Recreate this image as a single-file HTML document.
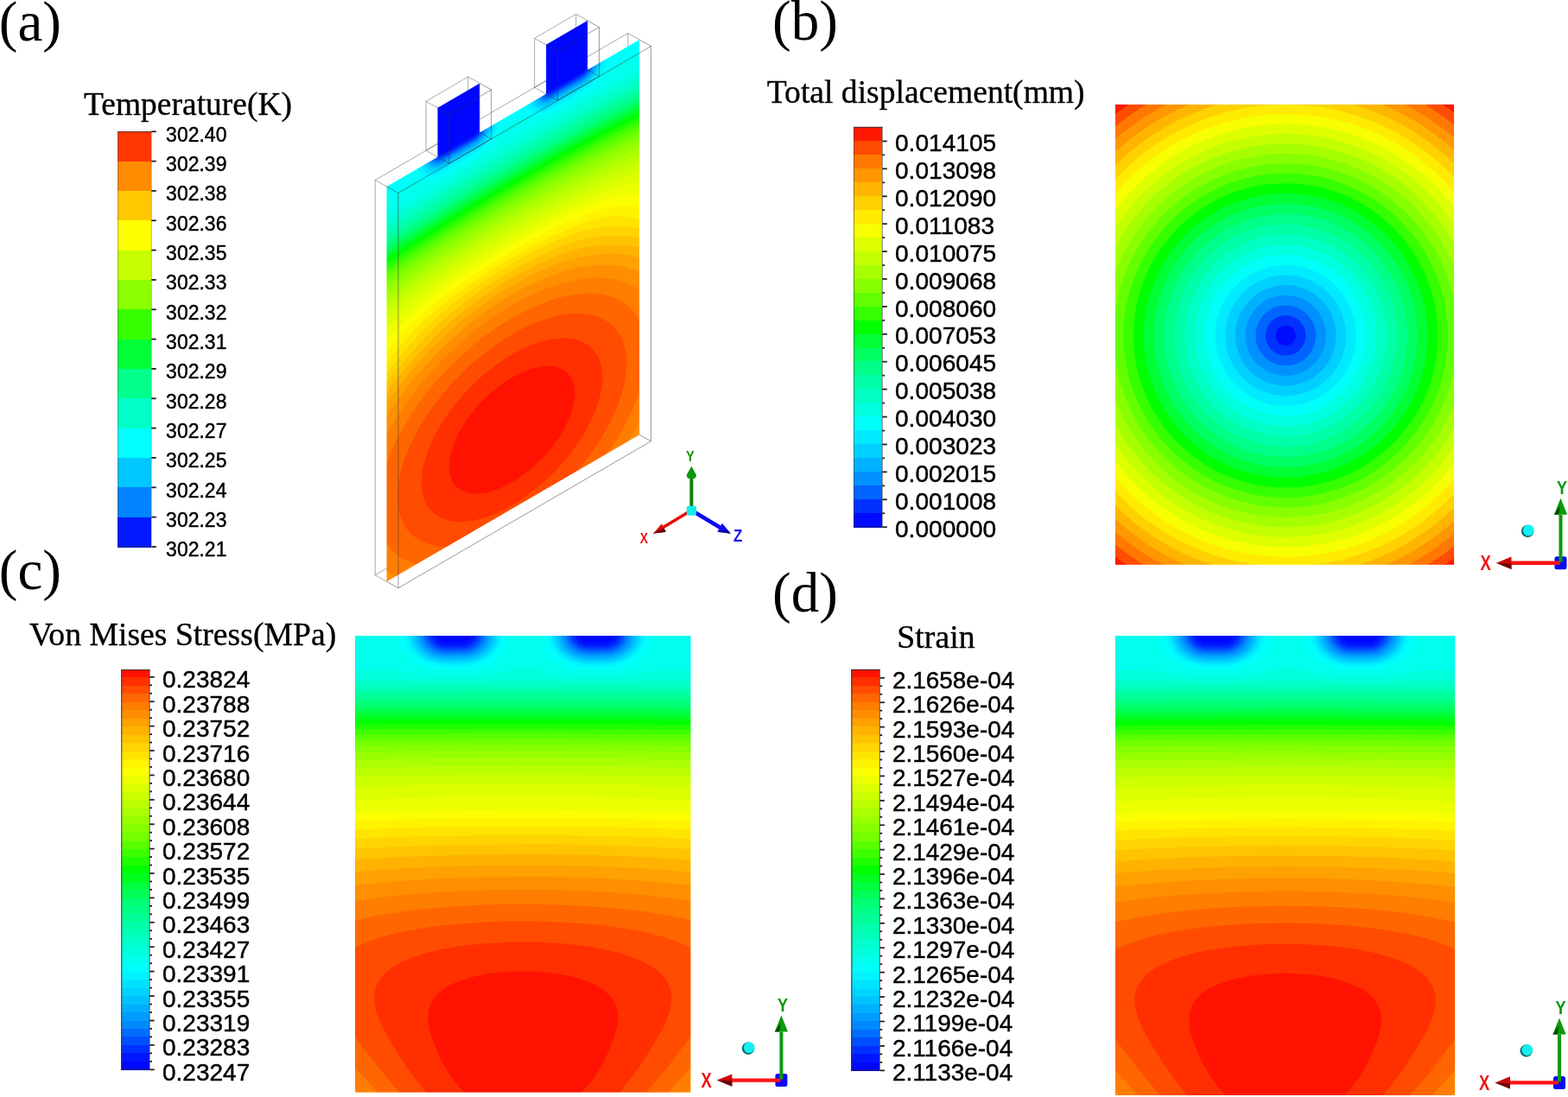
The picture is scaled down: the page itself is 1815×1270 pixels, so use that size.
<!DOCTYPE html>
<html><head><meta charset="utf-8"><title>Figure</title>
<style>html,body{margin:0;padding:0;background:#fff;}svg{display:block}</style></head>
<body>
<svg width="1815" height="1270" viewBox="0 0 1815 1270">
<defs>
<mask id="cb" maskUnits="userSpaceOnUse" x="1280" y="110" width="420" height="560"><rect x="1291.0" y="121.0" width="392.1" height="532.8" fill="#fff"/></mask>
<mask id="cc" maskUnits="userSpaceOnUse" x="-10" y="-10" width="420" height="560"><rect x="0" y="0" width="388.5" height="528.7" fill="#fff"/></mask>
<mask id="cd" maskUnits="userSpaceOnUse" x="-10" y="-10" width="420" height="560"><rect x="0" y="0" width="393.2" height="532" fill="#fff"/></mask>
<mask id="ca" maskUnits="userSpaceOnUse" x="-10" y="-70" width="320" height="540"><path d="M0 0L58.9 0V-57H107.7V0H184.5V-57H232.6V0H292.6V457.3H0Z" fill="#fff"/></mask>
</defs>
<rect width="1815" height="1270" fill="#fff"/>
<text x="-1.20" y="47.40" font-size="65" font-family="Liberation Serif, serif" text-anchor="start" fill="#000" stroke="none">(a)</text>
<text x="894.00" y="45.60" font-size="65" font-family="Liberation Serif, serif" text-anchor="start" fill="#000" stroke="none">(b)</text>
<text x="-1.20" y="681.60" font-size="65" font-family="Liberation Serif, serif" text-anchor="start" fill="#000" stroke="none">(c)</text>
<text x="894.00" y="707.50" font-size="65" font-family="Liberation Serif, serif" text-anchor="start" fill="#000" stroke="none">(d)</text>
<text x="217.50" y="133.00" font-size="37.5" font-family="Liberation Serif, serif" text-anchor="middle" fill="#000"  stroke="#000" stroke-width="0.35">Temperature(K)</text>
<text x="1071.70" y="119.00" font-size="37.6" font-family="Liberation Serif, serif" text-anchor="middle" fill="#000"  stroke="#000" stroke-width="0.35">Total displacement(mm)</text>
<text x="211.60" y="747.00" font-size="37.7" font-family="Liberation Serif, serif" text-anchor="middle" fill="#000"  stroke="#000" stroke-width="0.35">Von Mises Stress(MPa)</text>
<text x="1083.50" y="749.60" font-size="37.8" font-family="Liberation Serif, serif" text-anchor="middle" fill="#000"  stroke="#000" stroke-width="0.35">Strain</text>
<g shape-rendering="crispEdges">
<rect x="136.30" y="152.30" width="39.00" height="34.94" fill="#ff3700"/>
<rect x="136.30" y="186.64" width="39.00" height="34.94" fill="#ff8b00"/>
<rect x="136.30" y="220.97" width="39.00" height="34.94" fill="#ffc800"/>
<rect x="136.30" y="255.31" width="39.00" height="34.94" fill="#ffff00"/>
<rect x="136.30" y="289.64" width="39.00" height="34.94" fill="#c8ff00"/>
<rect x="136.30" y="323.98" width="39.00" height="34.94" fill="#8bff00"/>
<rect x="136.30" y="358.31" width="39.00" height="34.94" fill="#37ff00"/>
<rect x="136.30" y="392.65" width="39.00" height="34.94" fill="#00ff37"/>
<rect x="136.30" y="426.99" width="39.00" height="34.94" fill="#00ff8b"/>
<rect x="136.30" y="461.32" width="39.00" height="34.94" fill="#00ffc8"/>
<rect x="136.30" y="495.66" width="39.00" height="34.94" fill="#00ffff"/>
<rect x="136.30" y="529.99" width="39.00" height="34.94" fill="#00c7ff"/>
<rect x="136.30" y="564.33" width="39.00" height="34.94" fill="#0084ff"/>
<rect x="136.30" y="598.66" width="39.00" height="34.94" fill="#0019ff"/>
</g>
<path d="M136.80 633.00V152.30" fill="none" stroke="#3c3838" stroke-width="1.1" opacity="0.35"/>
<path d="M136.30 152.80H175.80" fill="none" stroke="#3c3030" stroke-width="1.1" opacity="0.8"/>
<path d="M136.30 632.60H175.30" fill="none" stroke="#303018" stroke-width="1" opacity="0.6400000000000001"/>
<path d="M175.30 152.30V633.00" fill="none" stroke="#3c3838" stroke-width="1.1" opacity="0.35"/>
<path d="M175.30 152.30h5.5" stroke="#222" stroke-width="1.8"/>
<text x="192.10" y="163.50" font-size="23" font-family="Liberation Sans, sans-serif" text-anchor="start" fill="#000"  stroke="#000" stroke-width="0.45">302.40</text>
<path d="M175.30 186.64h5.5" stroke="#222" stroke-width="1.8"/>
<text x="192.10" y="197.84" font-size="23" font-family="Liberation Sans, sans-serif" text-anchor="start" fill="#000"  stroke="#000" stroke-width="0.45">302.39</text>
<path d="M175.30 220.97h5.5" stroke="#222" stroke-width="1.8"/>
<text x="192.10" y="232.17" font-size="23" font-family="Liberation Sans, sans-serif" text-anchor="start" fill="#000"  stroke="#000" stroke-width="0.45">302.38</text>
<path d="M175.30 255.31h5.5" stroke="#222" stroke-width="1.8"/>
<text x="192.10" y="266.51" font-size="23" font-family="Liberation Sans, sans-serif" text-anchor="start" fill="#000"  stroke="#000" stroke-width="0.45">302.36</text>
<path d="M175.30 289.64h5.5" stroke="#222" stroke-width="1.8"/>
<text x="192.10" y="300.84" font-size="23" font-family="Liberation Sans, sans-serif" text-anchor="start" fill="#000"  stroke="#000" stroke-width="0.45">302.35</text>
<path d="M175.30 323.98h5.5" stroke="#222" stroke-width="1.8"/>
<text x="192.10" y="335.18" font-size="23" font-family="Liberation Sans, sans-serif" text-anchor="start" fill="#000"  stroke="#000" stroke-width="0.45">302.33</text>
<path d="M175.30 358.31h5.5" stroke="#222" stroke-width="1.8"/>
<text x="192.10" y="369.51" font-size="23" font-family="Liberation Sans, sans-serif" text-anchor="start" fill="#000"  stroke="#000" stroke-width="0.45">302.32</text>
<path d="M175.30 392.65h5.5" stroke="#222" stroke-width="1.8"/>
<text x="192.10" y="403.85" font-size="23" font-family="Liberation Sans, sans-serif" text-anchor="start" fill="#000"  stroke="#000" stroke-width="0.45">302.31</text>
<path d="M175.30 426.99h5.5" stroke="#222" stroke-width="1.8"/>
<text x="192.10" y="438.19" font-size="23" font-family="Liberation Sans, sans-serif" text-anchor="start" fill="#000"  stroke="#000" stroke-width="0.45">302.29</text>
<path d="M175.30 461.32h5.5" stroke="#222" stroke-width="1.8"/>
<text x="192.10" y="472.52" font-size="23" font-family="Liberation Sans, sans-serif" text-anchor="start" fill="#000"  stroke="#000" stroke-width="0.45">302.28</text>
<path d="M175.30 495.66h5.5" stroke="#222" stroke-width="1.8"/>
<text x="192.10" y="506.86" font-size="23" font-family="Liberation Sans, sans-serif" text-anchor="start" fill="#000"  stroke="#000" stroke-width="0.45">302.27</text>
<path d="M175.30 529.99h5.5" stroke="#222" stroke-width="1.8"/>
<text x="192.10" y="541.19" font-size="23" font-family="Liberation Sans, sans-serif" text-anchor="start" fill="#000"  stroke="#000" stroke-width="0.45">302.25</text>
<path d="M175.30 564.33h5.5" stroke="#222" stroke-width="1.8"/>
<text x="192.10" y="575.53" font-size="23" font-family="Liberation Sans, sans-serif" text-anchor="start" fill="#000"  stroke="#000" stroke-width="0.45">302.24</text>
<path d="M175.30 598.66h5.5" stroke="#222" stroke-width="1.8"/>
<text x="192.10" y="609.86" font-size="23" font-family="Liberation Sans, sans-serif" text-anchor="start" fill="#000"  stroke="#000" stroke-width="0.45">302.23</text>
<path d="M175.30 633.00h5.5" stroke="#222" stroke-width="1.8"/>
<text x="192.10" y="644.20" font-size="23" font-family="Liberation Sans, sans-serif" text-anchor="start" fill="#000"  stroke="#000" stroke-width="0.45">302.21</text>
<g shape-rendering="crispEdges">
<rect x="988.00" y="146.90" width="33.30" height="16.58" fill="#ff1900"/>
<rect x="988.00" y="162.88" width="33.30" height="16.58" fill="#ff4c00"/>
<rect x="988.00" y="178.85" width="33.30" height="16.58" fill="#ff7900"/>
<rect x="988.00" y="194.83" width="33.30" height="16.58" fill="#ff9700"/>
<rect x="988.00" y="210.80" width="33.30" height="16.58" fill="#ffb500"/>
<rect x="988.00" y="226.78" width="33.30" height="16.58" fill="#ffd100"/>
<rect x="988.00" y="242.76" width="33.30" height="16.58" fill="#ffeb00"/>
<rect x="988.00" y="258.73" width="33.30" height="16.58" fill="#f8ff00"/>
<rect x="988.00" y="274.71" width="33.30" height="16.58" fill="#deff00"/>
<rect x="988.00" y="290.68" width="33.30" height="16.58" fill="#c3ff00"/>
<rect x="988.00" y="306.66" width="33.30" height="16.58" fill="#a6ff00"/>
<rect x="988.00" y="322.63" width="33.30" height="16.58" fill="#88ff00"/>
<rect x="988.00" y="338.61" width="33.30" height="16.58" fill="#63ff00"/>
<rect x="988.00" y="354.59" width="33.30" height="16.58" fill="#35ff00"/>
<rect x="988.00" y="370.56" width="33.30" height="16.58" fill="#00ff00"/>
<rect x="988.00" y="386.54" width="33.30" height="16.58" fill="#00ff35"/>
<rect x="988.00" y="402.51" width="33.30" height="16.58" fill="#00ff63"/>
<rect x="988.00" y="418.49" width="33.30" height="16.58" fill="#00ff88"/>
<rect x="988.00" y="434.47" width="33.30" height="16.58" fill="#00ffa6"/>
<rect x="988.00" y="450.44" width="33.30" height="16.58" fill="#00ffc3"/>
<rect x="988.00" y="466.42" width="33.30" height="16.58" fill="#00ffde"/>
<rect x="988.00" y="482.39" width="33.30" height="16.58" fill="#00fff8"/>
<rect x="988.00" y="498.37" width="33.30" height="16.58" fill="#00ebff"/>
<rect x="988.00" y="514.34" width="33.30" height="16.58" fill="#00d0ff"/>
<rect x="988.00" y="530.32" width="33.30" height="16.58" fill="#00b1ff"/>
<rect x="988.00" y="546.30" width="33.30" height="16.58" fill="#0091ff"/>
<rect x="988.00" y="562.27" width="33.30" height="16.58" fill="#0065ff"/>
<rect x="988.00" y="578.25" width="33.30" height="16.58" fill="#0031ff"/>
<rect x="988.00" y="594.22" width="33.30" height="16.58" fill="#000cff"/>
</g>
<path d="M988.50 610.20V146.90" fill="none" stroke="#3c3838" stroke-width="1.1" opacity="0.5"/>
<path d="M988.00 147.40H1021.80" fill="none" stroke="#3c3030" stroke-width="1.1" opacity="0.8"/>
<path d="M988.00 609.80H1021.30" fill="none" stroke="#303018" stroke-width="1" opacity="0.6400000000000001"/>
<path d="M1021.30 146.90V610.20" fill="none" stroke="#3c3838" stroke-width="1.1" opacity="0.6"/>
<path d="M1021.30 163.46h5.5" stroke="#222" stroke-width="1.8"/>
<path d="M1021.30 179.41h2.8" stroke="#222" stroke-width="1.8"/>
<text x="1036.00" y="175.06" font-size="28.1" font-family="Liberation Sans, sans-serif" text-anchor="start" fill="#000"  stroke="#000" stroke-width="0.45">0.014105</text>
<path d="M1021.30 195.37h5.5" stroke="#222" stroke-width="1.8"/>
<path d="M1021.30 211.32h2.8" stroke="#222" stroke-width="1.8"/>
<text x="1036.00" y="206.97" font-size="28.1" font-family="Liberation Sans, sans-serif" text-anchor="start" fill="#000"  stroke="#000" stroke-width="0.45">0.013098</text>
<path d="M1021.30 227.28h5.5" stroke="#222" stroke-width="1.8"/>
<path d="M1021.30 243.23h2.8" stroke="#222" stroke-width="1.8"/>
<text x="1036.00" y="238.88" font-size="28.1" font-family="Liberation Sans, sans-serif" text-anchor="start" fill="#000"  stroke="#000" stroke-width="0.45">0.012090</text>
<path d="M1021.30 259.19h5.5" stroke="#222" stroke-width="1.8"/>
<path d="M1021.30 275.14h2.8" stroke="#222" stroke-width="1.8"/>
<text x="1036.00" y="270.79" font-size="28.1" font-family="Liberation Sans, sans-serif" text-anchor="start" fill="#000"  stroke="#000" stroke-width="0.45">0.011083</text>
<path d="M1021.30 291.10h5.5" stroke="#222" stroke-width="1.8"/>
<path d="M1021.30 307.05h2.8" stroke="#222" stroke-width="1.8"/>
<text x="1036.00" y="302.70" font-size="28.1" font-family="Liberation Sans, sans-serif" text-anchor="start" fill="#000"  stroke="#000" stroke-width="0.45">0.010075</text>
<path d="M1021.30 323.01h5.5" stroke="#222" stroke-width="1.8"/>
<path d="M1021.30 338.96h2.8" stroke="#222" stroke-width="1.8"/>
<text x="1036.00" y="334.61" font-size="28.1" font-family="Liberation Sans, sans-serif" text-anchor="start" fill="#000"  stroke="#000" stroke-width="0.45">0.009068</text>
<path d="M1021.30 354.92h5.5" stroke="#222" stroke-width="1.8"/>
<path d="M1021.30 370.87h2.8" stroke="#222" stroke-width="1.8"/>
<text x="1036.00" y="366.52" font-size="28.1" font-family="Liberation Sans, sans-serif" text-anchor="start" fill="#000"  stroke="#000" stroke-width="0.45">0.008060</text>
<path d="M1021.30 386.83h5.5" stroke="#222" stroke-width="1.8"/>
<path d="M1021.30 402.78h2.8" stroke="#222" stroke-width="1.8"/>
<text x="1036.00" y="398.43" font-size="28.1" font-family="Liberation Sans, sans-serif" text-anchor="start" fill="#000"  stroke="#000" stroke-width="0.45">0.007053</text>
<path d="M1021.30 418.74h5.5" stroke="#222" stroke-width="1.8"/>
<path d="M1021.30 434.69h2.8" stroke="#222" stroke-width="1.8"/>
<text x="1036.00" y="430.34" font-size="28.1" font-family="Liberation Sans, sans-serif" text-anchor="start" fill="#000"  stroke="#000" stroke-width="0.45">0.006045</text>
<path d="M1021.30 450.65h5.5" stroke="#222" stroke-width="1.8"/>
<path d="M1021.30 466.60h2.8" stroke="#222" stroke-width="1.8"/>
<text x="1036.00" y="462.25" font-size="28.1" font-family="Liberation Sans, sans-serif" text-anchor="start" fill="#000"  stroke="#000" stroke-width="0.45">0.005038</text>
<path d="M1021.30 482.56h5.5" stroke="#222" stroke-width="1.8"/>
<path d="M1021.30 498.51h2.8" stroke="#222" stroke-width="1.8"/>
<text x="1036.00" y="494.16" font-size="28.1" font-family="Liberation Sans, sans-serif" text-anchor="start" fill="#000"  stroke="#000" stroke-width="0.45">0.004030</text>
<path d="M1021.30 514.47h5.5" stroke="#222" stroke-width="1.8"/>
<path d="M1021.30 530.42h2.8" stroke="#222" stroke-width="1.8"/>
<text x="1036.00" y="526.07" font-size="28.1" font-family="Liberation Sans, sans-serif" text-anchor="start" fill="#000"  stroke="#000" stroke-width="0.45">0.003023</text>
<path d="M1021.30 546.38h5.5" stroke="#222" stroke-width="1.8"/>
<path d="M1021.30 562.33h2.8" stroke="#222" stroke-width="1.8"/>
<text x="1036.00" y="557.98" font-size="28.1" font-family="Liberation Sans, sans-serif" text-anchor="start" fill="#000"  stroke="#000" stroke-width="0.45">0.002015</text>
<path d="M1021.30 578.29h5.5" stroke="#222" stroke-width="1.8"/>
<path d="M1021.30 594.24h2.8" stroke="#222" stroke-width="1.8"/>
<text x="1036.00" y="589.89" font-size="28.1" font-family="Liberation Sans, sans-serif" text-anchor="start" fill="#000"  stroke="#000" stroke-width="0.45">0.001008</text>
<path d="M1021.30 610.20h5.5" stroke="#222" stroke-width="1.8"/>
<text x="1036.00" y="621.80" font-size="28.1" font-family="Liberation Sans, sans-serif" text-anchor="start" fill="#000"  stroke="#000" stroke-width="0.45">0.000000</text>
<g shape-rendering="crispEdges">
<rect x="140.30" y="775.00" width="32.90" height="10.06" fill="#ff1300"/>
<rect x="140.30" y="784.46" width="32.90" height="10.06" fill="#ff2f00"/>
<rect x="140.30" y="793.91" width="32.90" height="10.06" fill="#ff4c00"/>
<rect x="140.30" y="803.37" width="32.90" height="10.06" fill="#ff6600"/>
<rect x="140.30" y="812.82" width="32.90" height="10.06" fill="#ff7e00"/>
<rect x="140.30" y="822.28" width="32.90" height="10.06" fill="#ff8f00"/>
<rect x="140.30" y="831.73" width="32.90" height="10.06" fill="#ffa100"/>
<rect x="140.30" y="841.19" width="32.90" height="10.06" fill="#ffb300"/>
<rect x="140.30" y="850.64" width="32.90" height="10.06" fill="#ffc400"/>
<rect x="140.30" y="860.10" width="32.90" height="10.06" fill="#ffd400"/>
<rect x="140.30" y="869.55" width="32.90" height="10.06" fill="#ffe400"/>
<rect x="140.30" y="879.01" width="32.90" height="10.06" fill="#fff300"/>
<rect x="140.30" y="888.46" width="32.90" height="10.06" fill="#fbff00"/>
<rect x="140.30" y="897.92" width="32.90" height="10.06" fill="#ecff00"/>
<rect x="140.30" y="907.37" width="32.90" height="10.06" fill="#dcff00"/>
<rect x="140.30" y="916.83" width="32.90" height="10.06" fill="#ccff00"/>
<rect x="140.30" y="926.28" width="32.90" height="10.06" fill="#bbff00"/>
<rect x="140.30" y="935.74" width="32.90" height="10.06" fill="#aaff00"/>
<rect x="140.30" y="945.19" width="32.90" height="10.06" fill="#98ff00"/>
<rect x="140.30" y="954.65" width="32.90" height="10.06" fill="#86ff00"/>
<rect x="140.30" y="964.10" width="32.90" height="10.06" fill="#73ff00"/>
<rect x="140.30" y="973.56" width="32.90" height="10.06" fill="#59ff00"/>
<rect x="140.30" y="983.01" width="32.90" height="10.06" fill="#3eff00"/>
<rect x="140.30" y="992.47" width="32.90" height="10.06" fill="#1fff00"/>
<rect x="140.30" y="1001.92" width="32.90" height="10.06" fill="#00ff00"/>
<rect x="140.30" y="1011.38" width="32.90" height="10.06" fill="#00ff1f"/>
<rect x="140.30" y="1020.83" width="32.90" height="10.06" fill="#00ff3e"/>
<rect x="140.30" y="1030.29" width="32.90" height="10.06" fill="#00ff59"/>
<rect x="140.30" y="1039.74" width="32.90" height="10.06" fill="#00ff73"/>
<rect x="140.30" y="1049.20" width="32.90" height="10.06" fill="#00ff86"/>
<rect x="140.30" y="1058.65" width="32.90" height="10.06" fill="#00ff98"/>
<rect x="140.30" y="1068.11" width="32.90" height="10.06" fill="#00ffaa"/>
<rect x="140.30" y="1077.56" width="32.90" height="10.06" fill="#00ffbb"/>
<rect x="140.30" y="1087.02" width="32.90" height="10.06" fill="#00ffcc"/>
<rect x="140.30" y="1096.47" width="32.90" height="10.06" fill="#00ffdc"/>
<rect x="140.30" y="1105.93" width="32.90" height="10.06" fill="#00ffec"/>
<rect x="140.30" y="1115.38" width="32.90" height="10.06" fill="#00fffb"/>
<rect x="140.30" y="1124.84" width="32.90" height="10.06" fill="#00f3ff"/>
<rect x="140.30" y="1134.29" width="32.90" height="10.06" fill="#00e3ff"/>
<rect x="140.30" y="1143.75" width="32.90" height="10.06" fill="#00d3ff"/>
<rect x="140.30" y="1153.20" width="32.90" height="10.06" fill="#00c2ff"/>
<rect x="140.30" y="1162.66" width="32.90" height="10.06" fill="#00afff"/>
<rect x="140.30" y="1172.11" width="32.90" height="10.06" fill="#009cff"/>
<rect x="140.30" y="1181.57" width="32.90" height="10.06" fill="#0089ff"/>
<rect x="140.30" y="1191.02" width="32.90" height="10.06" fill="#006dff"/>
<rect x="140.30" y="1200.48" width="32.90" height="10.06" fill="#004fff"/>
<rect x="140.30" y="1209.93" width="32.90" height="10.06" fill="#0030ff"/>
<rect x="140.30" y="1219.39" width="32.90" height="10.06" fill="#0016ff"/>
<rect x="140.30" y="1228.84" width="32.90" height="10.06" fill="#0007ff"/>
</g>
<path d="M140.80 1238.30V775.00" fill="none" stroke="#3c3838" stroke-width="1.1" opacity="0.85"/>
<path d="M140.30 775.50H173.70" fill="none" stroke="#3c3030" stroke-width="1.1" opacity="0.85"/>
<path d="M140.30 1237.90H173.20" fill="none" stroke="#303018" stroke-width="1" opacity="0.68"/>
<path d="M173.20 775.00V1238.30" fill="none" stroke="#3c3838" stroke-width="1.1" opacity="0.7"/>
<path d="M173.20 783.80h5.5" stroke="#222" stroke-width="1.8"/>
<path d="M173.20 793.27h2.8" stroke="#222" stroke-width="1.8"/>
<path d="M173.20 802.74h2.8" stroke="#222" stroke-width="1.8"/>
<text x="188.00" y="796.40" font-size="28.0" font-family="Liberation Sans, sans-serif" text-anchor="start" fill="#000"  stroke="#000" stroke-width="0.45">0.23824</text>
<path d="M173.20 812.21h5.5" stroke="#222" stroke-width="1.8"/>
<path d="M173.20 821.67h2.8" stroke="#222" stroke-width="1.8"/>
<path d="M173.20 831.14h2.8" stroke="#222" stroke-width="1.8"/>
<text x="188.00" y="824.81" font-size="28.0" font-family="Liberation Sans, sans-serif" text-anchor="start" fill="#000"  stroke="#000" stroke-width="0.45">0.23788</text>
<path d="M173.20 840.61h5.5" stroke="#222" stroke-width="1.8"/>
<path d="M173.20 850.08h2.8" stroke="#222" stroke-width="1.8"/>
<path d="M173.20 859.55h2.8" stroke="#222" stroke-width="1.8"/>
<text x="188.00" y="853.21" font-size="28.0" font-family="Liberation Sans, sans-serif" text-anchor="start" fill="#000"  stroke="#000" stroke-width="0.45">0.23752</text>
<path d="M173.20 869.02h5.5" stroke="#222" stroke-width="1.8"/>
<path d="M173.20 878.49h2.8" stroke="#222" stroke-width="1.8"/>
<path d="M173.20 887.96h2.8" stroke="#222" stroke-width="1.8"/>
<text x="188.00" y="881.62" font-size="28.0" font-family="Liberation Sans, sans-serif" text-anchor="start" fill="#000"  stroke="#000" stroke-width="0.45">0.23716</text>
<path d="M173.20 897.42h5.5" stroke="#222" stroke-width="1.8"/>
<path d="M173.20 906.89h2.8" stroke="#222" stroke-width="1.8"/>
<path d="M173.20 916.36h2.8" stroke="#222" stroke-width="1.8"/>
<text x="188.00" y="910.02" font-size="28.0" font-family="Liberation Sans, sans-serif" text-anchor="start" fill="#000"  stroke="#000" stroke-width="0.45">0.23680</text>
<path d="M173.20 925.83h5.5" stroke="#222" stroke-width="1.8"/>
<path d="M173.20 935.30h2.8" stroke="#222" stroke-width="1.8"/>
<path d="M173.20 944.77h2.8" stroke="#222" stroke-width="1.8"/>
<text x="188.00" y="938.43" font-size="28.0" font-family="Liberation Sans, sans-serif" text-anchor="start" fill="#000"  stroke="#000" stroke-width="0.45">0.23644</text>
<path d="M173.20 954.24h5.5" stroke="#222" stroke-width="1.8"/>
<path d="M173.20 963.71h2.8" stroke="#222" stroke-width="1.8"/>
<path d="M173.20 973.17h2.8" stroke="#222" stroke-width="1.8"/>
<text x="188.00" y="966.84" font-size="28.0" font-family="Liberation Sans, sans-serif" text-anchor="start" fill="#000"  stroke="#000" stroke-width="0.45">0.23608</text>
<path d="M173.20 982.64h5.5" stroke="#222" stroke-width="1.8"/>
<path d="M173.20 992.11h2.8" stroke="#222" stroke-width="1.8"/>
<path d="M173.20 1001.58h2.8" stroke="#222" stroke-width="1.8"/>
<text x="188.00" y="995.24" font-size="28.0" font-family="Liberation Sans, sans-serif" text-anchor="start" fill="#000"  stroke="#000" stroke-width="0.45">0.23572</text>
<path d="M173.20 1011.05h5.5" stroke="#222" stroke-width="1.8"/>
<path d="M173.20 1020.52h2.8" stroke="#222" stroke-width="1.8"/>
<path d="M173.20 1029.99h2.8" stroke="#222" stroke-width="1.8"/>
<text x="188.00" y="1023.65" font-size="28.0" font-family="Liberation Sans, sans-serif" text-anchor="start" fill="#000"  stroke="#000" stroke-width="0.45">0.23535</text>
<path d="M173.20 1039.46h5.5" stroke="#222" stroke-width="1.8"/>
<path d="M173.20 1048.92h2.8" stroke="#222" stroke-width="1.8"/>
<path d="M173.20 1058.39h2.8" stroke="#222" stroke-width="1.8"/>
<text x="188.00" y="1052.06" font-size="28.0" font-family="Liberation Sans, sans-serif" text-anchor="start" fill="#000"  stroke="#000" stroke-width="0.45">0.23499</text>
<path d="M173.20 1067.86h5.5" stroke="#222" stroke-width="1.8"/>
<path d="M173.20 1077.33h2.8" stroke="#222" stroke-width="1.8"/>
<path d="M173.20 1086.80h2.8" stroke="#222" stroke-width="1.8"/>
<text x="188.00" y="1080.46" font-size="28.0" font-family="Liberation Sans, sans-serif" text-anchor="start" fill="#000"  stroke="#000" stroke-width="0.45">0.23463</text>
<path d="M173.20 1096.27h5.5" stroke="#222" stroke-width="1.8"/>
<path d="M173.20 1105.74h2.8" stroke="#222" stroke-width="1.8"/>
<path d="M173.20 1115.21h2.8" stroke="#222" stroke-width="1.8"/>
<text x="188.00" y="1108.87" font-size="28.0" font-family="Liberation Sans, sans-serif" text-anchor="start" fill="#000"  stroke="#000" stroke-width="0.45">0.23427</text>
<path d="M173.20 1124.67h5.5" stroke="#222" stroke-width="1.8"/>
<path d="M173.20 1134.14h2.8" stroke="#222" stroke-width="1.8"/>
<path d="M173.20 1143.61h2.8" stroke="#222" stroke-width="1.8"/>
<text x="188.00" y="1137.27" font-size="28.0" font-family="Liberation Sans, sans-serif" text-anchor="start" fill="#000"  stroke="#000" stroke-width="0.45">0.23391</text>
<path d="M173.20 1153.08h5.5" stroke="#222" stroke-width="1.8"/>
<path d="M173.20 1162.55h2.8" stroke="#222" stroke-width="1.8"/>
<path d="M173.20 1172.02h2.8" stroke="#222" stroke-width="1.8"/>
<text x="188.00" y="1165.68" font-size="28.0" font-family="Liberation Sans, sans-serif" text-anchor="start" fill="#000"  stroke="#000" stroke-width="0.45">0.23355</text>
<path d="M173.20 1181.49h5.5" stroke="#222" stroke-width="1.8"/>
<path d="M173.20 1190.96h2.8" stroke="#222" stroke-width="1.8"/>
<path d="M173.20 1200.42h2.8" stroke="#222" stroke-width="1.8"/>
<text x="188.00" y="1194.09" font-size="28.0" font-family="Liberation Sans, sans-serif" text-anchor="start" fill="#000"  stroke="#000" stroke-width="0.45">0.23319</text>
<path d="M173.20 1209.89h5.5" stroke="#222" stroke-width="1.8"/>
<path d="M173.20 1219.36h2.8" stroke="#222" stroke-width="1.8"/>
<path d="M173.20 1228.83h2.8" stroke="#222" stroke-width="1.8"/>
<text x="188.00" y="1222.49" font-size="28.0" font-family="Liberation Sans, sans-serif" text-anchor="start" fill="#000"  stroke="#000" stroke-width="0.45">0.23283</text>
<path d="M173.20 1238.30h5.5" stroke="#222" stroke-width="1.8"/>
<text x="188.00" y="1250.90" font-size="28.0" font-family="Liberation Sans, sans-serif" text-anchor="start" fill="#000"  stroke="#000" stroke-width="0.45">0.23247</text>
<g shape-rendering="crispEdges">
<rect x="985.40" y="774.90" width="33.00" height="10.08" fill="#ff1300"/>
<rect x="985.40" y="784.38" width="33.00" height="10.08" fill="#ff2f00"/>
<rect x="985.40" y="793.86" width="33.00" height="10.08" fill="#ff4c00"/>
<rect x="985.40" y="803.33" width="33.00" height="10.08" fill="#ff6600"/>
<rect x="985.40" y="812.81" width="33.00" height="10.08" fill="#ff7e00"/>
<rect x="985.40" y="822.29" width="33.00" height="10.08" fill="#ff8f00"/>
<rect x="985.40" y="831.77" width="33.00" height="10.08" fill="#ffa100"/>
<rect x="985.40" y="841.24" width="33.00" height="10.08" fill="#ffb300"/>
<rect x="985.40" y="850.72" width="33.00" height="10.08" fill="#ffc400"/>
<rect x="985.40" y="860.20" width="33.00" height="10.08" fill="#ffd400"/>
<rect x="985.40" y="869.68" width="33.00" height="10.08" fill="#ffe400"/>
<rect x="985.40" y="879.15" width="33.00" height="10.08" fill="#fff300"/>
<rect x="985.40" y="888.63" width="33.00" height="10.08" fill="#fbff00"/>
<rect x="985.40" y="898.11" width="33.00" height="10.08" fill="#ecff00"/>
<rect x="985.40" y="907.59" width="33.00" height="10.08" fill="#dcff00"/>
<rect x="985.40" y="917.06" width="33.00" height="10.08" fill="#ccff00"/>
<rect x="985.40" y="926.54" width="33.00" height="10.08" fill="#bbff00"/>
<rect x="985.40" y="936.02" width="33.00" height="10.08" fill="#aaff00"/>
<rect x="985.40" y="945.50" width="33.00" height="10.08" fill="#98ff00"/>
<rect x="985.40" y="954.97" width="33.00" height="10.08" fill="#86ff00"/>
<rect x="985.40" y="964.45" width="33.00" height="10.08" fill="#73ff00"/>
<rect x="985.40" y="973.93" width="33.00" height="10.08" fill="#59ff00"/>
<rect x="985.40" y="983.41" width="33.00" height="10.08" fill="#3eff00"/>
<rect x="985.40" y="992.88" width="33.00" height="10.08" fill="#1fff00"/>
<rect x="985.40" y="1002.36" width="33.00" height="10.08" fill="#00ff00"/>
<rect x="985.40" y="1011.84" width="33.00" height="10.08" fill="#00ff1f"/>
<rect x="985.40" y="1021.32" width="33.00" height="10.08" fill="#00ff3e"/>
<rect x="985.40" y="1030.79" width="33.00" height="10.08" fill="#00ff59"/>
<rect x="985.40" y="1040.27" width="33.00" height="10.08" fill="#00ff73"/>
<rect x="985.40" y="1049.75" width="33.00" height="10.08" fill="#00ff86"/>
<rect x="985.40" y="1059.23" width="33.00" height="10.08" fill="#00ff98"/>
<rect x="985.40" y="1068.70" width="33.00" height="10.08" fill="#00ffaa"/>
<rect x="985.40" y="1078.18" width="33.00" height="10.08" fill="#00ffbb"/>
<rect x="985.40" y="1087.66" width="33.00" height="10.08" fill="#00ffcc"/>
<rect x="985.40" y="1097.14" width="33.00" height="10.08" fill="#00ffdc"/>
<rect x="985.40" y="1106.61" width="33.00" height="10.08" fill="#00ffec"/>
<rect x="985.40" y="1116.09" width="33.00" height="10.08" fill="#00fffb"/>
<rect x="985.40" y="1125.57" width="33.00" height="10.08" fill="#00f3ff"/>
<rect x="985.40" y="1135.05" width="33.00" height="10.08" fill="#00e3ff"/>
<rect x="985.40" y="1144.52" width="33.00" height="10.08" fill="#00d3ff"/>
<rect x="985.40" y="1154.00" width="33.00" height="10.08" fill="#00c2ff"/>
<rect x="985.40" y="1163.48" width="33.00" height="10.08" fill="#00afff"/>
<rect x="985.40" y="1172.96" width="33.00" height="10.08" fill="#009cff"/>
<rect x="985.40" y="1182.43" width="33.00" height="10.08" fill="#0089ff"/>
<rect x="985.40" y="1191.91" width="33.00" height="10.08" fill="#006dff"/>
<rect x="985.40" y="1201.39" width="33.00" height="10.08" fill="#004fff"/>
<rect x="985.40" y="1210.87" width="33.00" height="10.08" fill="#0030ff"/>
<rect x="985.40" y="1220.34" width="33.00" height="10.08" fill="#0016ff"/>
<rect x="985.40" y="1229.82" width="33.00" height="10.08" fill="#0007ff"/>
</g>
<path d="M985.90 1239.30V774.90" fill="none" stroke="#3c3838" stroke-width="1.1" opacity="0.85"/>
<path d="M985.40 775.40H1018.90" fill="none" stroke="#3c3030" stroke-width="1.1" opacity="0.85"/>
<path d="M985.40 1238.90H1018.40" fill="none" stroke="#303018" stroke-width="1" opacity="0.68"/>
<path d="M1018.40 774.90V1239.30" fill="none" stroke="#3c3838" stroke-width="1.1" opacity="0.7"/>
<path d="M1018.40 784.80h5.5" stroke="#222" stroke-width="1.8"/>
<path d="M1018.40 794.27h2.8" stroke="#222" stroke-width="1.8"/>
<path d="M1018.40 803.74h2.8" stroke="#222" stroke-width="1.8"/>
<text x="1032.90" y="796.70" font-size="27.95" font-family="Liberation Sans, sans-serif" text-anchor="start" fill="#000"  stroke="#000" stroke-width="0.45">2.1658e-04</text>
<path d="M1018.40 813.21h5.5" stroke="#222" stroke-width="1.8"/>
<path d="M1018.40 822.67h2.8" stroke="#222" stroke-width="1.8"/>
<path d="M1018.40 832.14h2.8" stroke="#222" stroke-width="1.8"/>
<text x="1032.90" y="825.11" font-size="27.95" font-family="Liberation Sans, sans-serif" text-anchor="start" fill="#000"  stroke="#000" stroke-width="0.45">2.1626e-04</text>
<path d="M1018.40 841.61h5.5" stroke="#222" stroke-width="1.8"/>
<path d="M1018.40 851.08h2.8" stroke="#222" stroke-width="1.8"/>
<path d="M1018.40 860.55h2.8" stroke="#222" stroke-width="1.8"/>
<text x="1032.90" y="853.51" font-size="27.95" font-family="Liberation Sans, sans-serif" text-anchor="start" fill="#000"  stroke="#000" stroke-width="0.45">2.1593e-04</text>
<path d="M1018.40 870.02h5.5" stroke="#222" stroke-width="1.8"/>
<path d="M1018.40 879.49h2.8" stroke="#222" stroke-width="1.8"/>
<path d="M1018.40 888.96h2.8" stroke="#222" stroke-width="1.8"/>
<text x="1032.90" y="881.92" font-size="27.95" font-family="Liberation Sans, sans-serif" text-anchor="start" fill="#000"  stroke="#000" stroke-width="0.45">2.1560e-04</text>
<path d="M1018.40 898.42h5.5" stroke="#222" stroke-width="1.8"/>
<path d="M1018.40 907.89h2.8" stroke="#222" stroke-width="1.8"/>
<path d="M1018.40 917.36h2.8" stroke="#222" stroke-width="1.8"/>
<text x="1032.90" y="910.32" font-size="27.95" font-family="Liberation Sans, sans-serif" text-anchor="start" fill="#000"  stroke="#000" stroke-width="0.45">2.1527e-04</text>
<path d="M1018.40 926.83h5.5" stroke="#222" stroke-width="1.8"/>
<path d="M1018.40 936.30h2.8" stroke="#222" stroke-width="1.8"/>
<path d="M1018.40 945.77h2.8" stroke="#222" stroke-width="1.8"/>
<text x="1032.90" y="938.73" font-size="27.95" font-family="Liberation Sans, sans-serif" text-anchor="start" fill="#000"  stroke="#000" stroke-width="0.45">2.1494e-04</text>
<path d="M1018.40 955.24h5.5" stroke="#222" stroke-width="1.8"/>
<path d="M1018.40 964.71h2.8" stroke="#222" stroke-width="1.8"/>
<path d="M1018.40 974.17h2.8" stroke="#222" stroke-width="1.8"/>
<text x="1032.90" y="967.14" font-size="27.95" font-family="Liberation Sans, sans-serif" text-anchor="start" fill="#000"  stroke="#000" stroke-width="0.45">2.1461e-04</text>
<path d="M1018.40 983.64h5.5" stroke="#222" stroke-width="1.8"/>
<path d="M1018.40 993.11h2.8" stroke="#222" stroke-width="1.8"/>
<path d="M1018.40 1002.58h2.8" stroke="#222" stroke-width="1.8"/>
<text x="1032.90" y="995.54" font-size="27.95" font-family="Liberation Sans, sans-serif" text-anchor="start" fill="#000"  stroke="#000" stroke-width="0.45">2.1429e-04</text>
<path d="M1018.40 1012.05h5.5" stroke="#222" stroke-width="1.8"/>
<path d="M1018.40 1021.52h2.8" stroke="#222" stroke-width="1.8"/>
<path d="M1018.40 1030.99h2.8" stroke="#222" stroke-width="1.8"/>
<text x="1032.90" y="1023.95" font-size="27.95" font-family="Liberation Sans, sans-serif" text-anchor="start" fill="#000"  stroke="#000" stroke-width="0.45">2.1396e-04</text>
<path d="M1018.40 1040.46h5.5" stroke="#222" stroke-width="1.8"/>
<path d="M1018.40 1049.92h2.8" stroke="#222" stroke-width="1.8"/>
<path d="M1018.40 1059.39h2.8" stroke="#222" stroke-width="1.8"/>
<text x="1032.90" y="1052.36" font-size="27.95" font-family="Liberation Sans, sans-serif" text-anchor="start" fill="#000"  stroke="#000" stroke-width="0.45">2.1363e-04</text>
<path d="M1018.40 1068.86h5.5" stroke="#222" stroke-width="1.8"/>
<path d="M1018.40 1078.33h2.8" stroke="#222" stroke-width="1.8"/>
<path d="M1018.40 1087.80h2.8" stroke="#222" stroke-width="1.8"/>
<text x="1032.90" y="1080.76" font-size="27.95" font-family="Liberation Sans, sans-serif" text-anchor="start" fill="#000"  stroke="#000" stroke-width="0.45">2.1330e-04</text>
<path d="M1018.40 1097.27h5.5" stroke="#222" stroke-width="1.8"/>
<path d="M1018.40 1106.74h2.8" stroke="#222" stroke-width="1.8"/>
<path d="M1018.40 1116.21h2.8" stroke="#222" stroke-width="1.8"/>
<text x="1032.90" y="1109.17" font-size="27.95" font-family="Liberation Sans, sans-serif" text-anchor="start" fill="#000"  stroke="#000" stroke-width="0.45">2.1297e-04</text>
<path d="M1018.40 1125.67h5.5" stroke="#222" stroke-width="1.8"/>
<path d="M1018.40 1135.14h2.8" stroke="#222" stroke-width="1.8"/>
<path d="M1018.40 1144.61h2.8" stroke="#222" stroke-width="1.8"/>
<text x="1032.90" y="1137.58" font-size="27.95" font-family="Liberation Sans, sans-serif" text-anchor="start" fill="#000"  stroke="#000" stroke-width="0.45">2.1265e-04</text>
<path d="M1018.40 1154.08h5.5" stroke="#222" stroke-width="1.8"/>
<path d="M1018.40 1163.55h2.8" stroke="#222" stroke-width="1.8"/>
<path d="M1018.40 1173.02h2.8" stroke="#222" stroke-width="1.8"/>
<text x="1032.90" y="1165.98" font-size="27.95" font-family="Liberation Sans, sans-serif" text-anchor="start" fill="#000"  stroke="#000" stroke-width="0.45">2.1232e-04</text>
<path d="M1018.40 1182.49h5.5" stroke="#222" stroke-width="1.8"/>
<path d="M1018.40 1191.96h2.8" stroke="#222" stroke-width="1.8"/>
<path d="M1018.40 1201.42h2.8" stroke="#222" stroke-width="1.8"/>
<text x="1032.90" y="1194.39" font-size="27.95" font-family="Liberation Sans, sans-serif" text-anchor="start" fill="#000"  stroke="#000" stroke-width="0.45">2.1199e-04</text>
<path d="M1018.40 1210.89h5.5" stroke="#222" stroke-width="1.8"/>
<path d="M1018.40 1220.36h2.8" stroke="#222" stroke-width="1.8"/>
<path d="M1018.40 1229.83h2.8" stroke="#222" stroke-width="1.8"/>
<text x="1032.90" y="1222.79" font-size="27.95" font-family="Liberation Sans, sans-serif" text-anchor="start" fill="#000"  stroke="#000" stroke-width="0.45">2.1166e-04</text>
<path d="M1018.40 1239.30h5.5" stroke="#222" stroke-width="1.8"/>
<text x="1032.90" y="1251.20" font-size="27.95" font-family="Liberation Sans, sans-serif" text-anchor="start" fill="#000"  stroke="#000" stroke-width="0.45">2.1133e-04</text>
<g mask="url(#cb)">
<rect x="1289" y="119" width="396" height="536" fill="#ff1900"/>
<circle cx="1488.2" cy="388.4" r="323.34" fill="#ff4c00"/>
<circle cx="1488.2" cy="388.4" r="312.17" fill="#ff7900"/>
<circle cx="1488.2" cy="388.4" r="300.99" fill="#ff9700"/>
<circle cx="1488.2" cy="388.4" r="289.82" fill="#ffb500"/>
<circle cx="1488.2" cy="388.4" r="278.64" fill="#ffd100"/>
<circle cx="1488.2" cy="388.4" r="267.47" fill="#ffeb00"/>
<circle cx="1488.2" cy="388.4" r="256.29" fill="#f8ff00"/>
<circle cx="1488.2" cy="388.4" r="244.91" fill="#deff00"/>
<circle cx="1488.2" cy="388.4" r="233.47" fill="#c3ff00"/>
<circle cx="1488.2" cy="388.4" r="222.02" fill="#a6ff00"/>
<circle cx="1488.2" cy="388.4" r="210.57" fill="#88ff00"/>
<circle cx="1488.2" cy="388.4" r="199.12" fill="#63ff00"/>
<circle cx="1488.2" cy="388.4" r="187.67" fill="#35ff00"/>
<circle cx="1488.2" cy="388.4" r="176.22" fill="#00ff00"/>
<circle cx="1488.2" cy="388.4" r="164.57" fill="#00ff35"/>
<circle cx="1488.2" cy="388.4" r="152.71" fill="#00ff63"/>
<circle cx="1488.2" cy="388.4" r="140.84" fill="#00ff88"/>
<circle cx="1488.2" cy="388.4" r="128.98" fill="#00ffa6"/>
<circle cx="1488.2" cy="388.4" r="117.12" fill="#00ffc3"/>
<circle cx="1488.2" cy="388.4" r="105.26" fill="#00ffde"/>
<circle cx="1488.2" cy="388.4" r="93.40" fill="#00fff8"/>
<circle cx="1488.2" cy="388.4" r="81.59" fill="#00ebff"/>
<circle cx="1488.2" cy="388.4" r="69.93" fill="#00d0ff"/>
<circle cx="1488.2" cy="388.4" r="58.28" fill="#00b1ff"/>
<circle cx="1488.2" cy="388.4" r="46.62" fill="#0091ff"/>
<circle cx="1488.2" cy="388.4" r="34.97" fill="#0065ff"/>
<circle cx="1488.2" cy="388.4" r="23.31" fill="#0031ff"/>
<circle cx="1488.2" cy="388.4" r="11.66" fill="#000cff"/>
</g>
<g mask="url(#cc)" transform="translate(411.0 736.0)">
<rect x="-4.0" y="-4.0" width="392.5" height="532.7" fill="#0007ff"/>
<path d="M-4.0 -4.0L94.6 -4.0L94.6 0.0L96.1 4.4L100.1 7.2L102.6 8.0L108.1 8.4L124.2 8.4L128.2 7.5L133.0 4.0L134.3 0.0L134.3 -4.0L259.7 -4.0L259.7 0.0L261.1 4.0L264.3 6.6L268.4 8.2L288.4 8.4L292.4 7.9L296.4 5.7L298.2 4.0L299.5 0.0L299.5 -4.0L388.5 -4.0L388.5 528.7L-4.0 528.7Z" fill="#0016ff" fill-rule="evenodd"/>
<path d="M-4.0 -4.0L89.9 -4.0L89.9 0.0L90.8 4.0L93.9 8.0L96.1 9.5L100.1 11.2L104.1 12.0L108.1 12.0L124.2 12.0L128.2 11.4L132.2 9.8L135.0 8.0L138.1 4.0L139.1 0.0L139.1 -4.0L255.1 -4.0L255.1 0.0L255.9 4.0L259.1 8.0L264.3 10.9L268.4 11.9L288.4 12.0L292.4 11.6L296.4 10.3L300.4 8.0L303.4 4.0L304.4 0.0L304.4 -4.0L388.5 -4.0L388.5 528.7L-4.0 528.7Z" fill="#0030ff" fill-rule="evenodd"/>
<path d="M-4.0 -4.0L86.0 -4.0L86.0 0.0L86.7 4.0L89.1 8.0L92.1 10.8L96.1 13.0L100.1 14.3L104.1 14.8L108.1 14.8L124.2 14.8L128.2 14.4L132.2 13.3L134.9 12.0L139.9 8.0L142.2 4.0L142.9 0.0L142.9 -4.0L251.2 -4.0L251.2 0.0L252.3 4.9L254.3 8.0L256.3 10.0L260.3 12.6L264.3 14.0L268.4 14.7L288.4 14.8L292.4 14.6L296.4 13.6L300.4 11.9L304.4 8.7L307.4 4.0L308.2 0.0L308.2 -4.0L388.5 -4.0L388.5 528.7L-4.0 528.7Z" fill="#004fff" fill-rule="evenodd"/>
<path d="M-4.0 -4.0L82.6 -4.0L82.6 0.0L83.2 4.0L85.1 8.0L88.9 12.0L92.1 14.1L96.3 16.0L100.1 17.0L108.1 17.5L124.2 17.4L128.2 17.1L132.2 16.1L136.2 14.4L140.0 12.0L143.7 8.0L145.7 4.0L146.3 0.0L146.3 -4.0L247.8 -4.0L247.8 0.0L248.4 4.0L250.4 8.0L254.1 12.0L256.3 13.5L261.7 16.0L268.4 17.4L288.4 17.5L292.4 17.2L296.4 16.4L300.4 15.0L305.2 12.0L309.0 8.0L310.9 4.0L311.5 0.0L311.5 -4.0L388.5 -4.0L388.5 528.7L-4.0 528.7Z" fill="#006dff" fill-rule="evenodd"/>
<path d="M-4.0 -4.0L79.4 -4.0L79.4 0.0L79.9 4.0L81.6 8.0L84.6 12.0L90.0 16.0L96.1 18.6L100.1 19.5L108.1 19.9L124.2 19.9L128.2 19.6L132.2 18.7L138.9 16.0L144.2 12.0L147.3 8.0L149.0 4.0L149.5 0.0L149.5 -4.0L244.6 -4.0L244.6 0.0L245.1 4.0L246.8 8.0L249.9 12.0L255.3 16.0L260.3 18.2L264.3 19.3L268.4 19.8L288.4 19.9L292.4 19.7L296.4 19.0L300.4 17.7L304.4 15.9L309.4 12.0L312.6 8.0L314.2 4.0L314.7 0.0L314.7 -4.0L388.5 -4.0L388.5 528.7L-4.0 528.7Z" fill="#0089ff" fill-rule="evenodd"/>
<path d="M-4.0 -4.0L76.3 -4.0L76.8 4.0L78.3 8.0L81.0 12.0L84.1 15.0L88.1 17.8L92.1 19.7L96.1 21.0L100.1 21.8L108.1 22.1L128.2 21.8L136.0 20.0L140.2 18.1L144.2 15.5L147.9 12.0L150.5 8.0L152.1 4.0L152.5 -4.0L241.6 -4.0L242.1 4.0L243.6 8.0L246.3 12.0L248.3 14.1L252.3 17.2L258.3 20.0L264.3 21.6L268.4 22.1L288.4 22.1L296.4 21.4L300.4 20.3L304.4 18.6L308.8 16.0L313.1 12.0L315.8 8.0L317.3 4.0L317.7 -4.0L388.5 -4.0L388.5 528.7L-4.0 528.7Z" fill="#009cff" fill-rule="evenodd"/>
<path d="M-4.0 -4.0L73.5 -4.0L74.0 4.0L75.3 8.0L77.7 12.0L81.5 16.0L87.4 20.0L92.1 22.1L100.1 24.0L108.1 24.3L128.2 24.0L136.2 22.3L140.2 20.7L144.2 18.4L147.4 16.0L151.1 12.0L153.5 8.0L154.9 4.0L155.3 -4.0L238.8 -4.0L239.2 4.0L240.6 8.0L243.0 12.0L246.7 16.0L252.3 19.9L256.3 21.7L264.3 23.8L268.4 24.3L288.4 24.3L293.3 24.0L300.4 22.6L306.7 20.0L312.7 16.0L316.4 12.0L318.8 8.0L320.1 4.0L320.6 -4.0L388.5 -4.0L388.5 528.7L-4.0 528.7Z" fill="#00afff" fill-rule="evenodd"/>
<path d="M-4.0 -4.0L70.7 -4.0L71.1 4.0L72.4 8.0L74.6 12.0L77.9 16.0L80.1 18.0L84.1 20.8L92.1 24.4L100.1 26.1L108.1 26.4L128.2 26.2L136.2 24.5L144.2 21.1L148.2 18.4L150.9 16.0L154.3 12.0L156.5 8.0L157.7 4.0L158.1 -4.0L236.0 -4.0L236.4 4.0L237.6 8.0L239.8 12.0L243.1 16.0L248.3 20.2L252.3 22.4L256.3 24.0L264.3 26.0L268.4 26.4L288.4 26.4L296.4 25.8L304.4 23.5L311.2 20.0L316.2 16.0L319.5 12.0L321.7 8.0L323.0 4.0L323.4 -4.0L388.5 -4.0L388.5 528.7L-4.0 528.7Z" fill="#00c2ff" fill-rule="evenodd"/>
<path d="M-4.0 -4.0L67.9 -4.0L68.3 4.0L69.4 8.0L71.4 12.0L74.4 16.0L78.8 20.0L84.1 23.5L92.1 26.7L100.1 28.2L108.1 28.5L124.2 28.5L132.2 27.8L140.2 25.5L144.2 23.8L148.2 21.4L154.4 16.0L157.4 12.0L159.4 8.0L160.5 4.0L160.9 -4.0L233.1 -4.0L233.5 4.0L234.7 8.0L236.6 12.0L240.3 16.7L244.0 20.0L248.3 22.9L256.3 26.3L264.3 28.1L268.4 28.4L288.4 28.5L296.4 27.9L304.4 25.9L308.9 24.0L316.4 19.2L320.4 15.2L322.7 12.0L324.7 8.0L325.8 4.0L326.2 -4.0L388.5 -4.0L388.5 528.7L-4.0 528.7Z" fill="#00d3ff" fill-rule="evenodd"/>
<path d="M-4.0 -4.0L65.2 -4.0L65.5 4.0L66.5 8.0L68.4 12.0L71.1 16.0L76.1 21.0L80.1 23.8L84.1 25.9L92.1 28.9L100.1 30.3L108.1 30.6L124.2 30.5L132.2 29.8L140.2 27.8L148.2 24.1L152.2 21.4L156.2 17.7L160.5 12.0L162.3 8.0L163.3 4.0L163.7 -4.0L230.4 -4.0L230.8 4.0L231.8 8.0L233.7 12.0L236.4 16.0L240.2 20.0L245.8 24.0L252.3 27.2L260.3 29.6L268.4 30.5L288.4 30.6L296.4 30.0L304.4 28.2L312.4 24.8L319.1 20.0L324.4 14.0L325.7 12.0L327.5 8.0L328.6 4.0L329.0 -4.0L388.5 -4.0L388.5 528.7L-4.0 528.7Z" fill="#00e3ff" fill-rule="evenodd"/>
<path d="M-4.0 -4.0L62.3 -4.0L62.6 4.0L63.7 8.0L65.4 12.0L68.0 16.0L72.1 20.7L80.1 26.5L88.1 30.0L100.1 32.5L108.1 32.8L124.2 32.7L128.2 32.5L136.2 31.2L144.2 28.7L152.2 24.2L157.4 20.0L160.9 16.0L163.4 12.0L165.2 8.0L166.2 4.0L166.5 -4.0L227.6 -4.0L228.0 4.0L229.0 8.0L230.6 12.0L233.2 16.0L236.8 20.0L240.3 23.1L244.3 25.9L252.3 29.7L256.3 30.8L264.3 32.3L268.4 32.7L288.4 32.8L292.4 32.6L300.4 31.4L308.4 29.2L316.4 25.1L320.4 22.1L326.3 16.0L328.7 12.0L330.5 8.0L331.4 4.0L331.7 -4.0L388.5 -4.0L388.5 528.7L-4.0 528.7Z" fill="#00f3ff" fill-rule="evenodd"/>
<path d="M-4.0 -4.0L58.2 -4.0L58.6 4.0L61.1 12.0L66.8 20.0L72.1 24.7L80.1 30.0L92.1 34.1L100.1 35.2L108.1 35.3L128.2 35.2L136.2 34.2L148.2 30.2L156.2 25.2L162.1 20.0L167.6 12.0L170.2 4.0L170.6 -4.0L224.0 -4.0L224.0 0.0L224.9 8.0L226.5 12.0L228.9 16.0L232.4 20.0L240.3 27.0L248.3 31.1L256.3 33.8L260.3 34.7L268.4 35.3L288.4 35.3L296.4 35.0L300.4 34.5L312.4 30.7L320.4 26.2L324.4 22.9L327.4 20.0L330.7 16.0L334.7 8.0L335.6 4.0L335.8 -4.0L388.5 -4.0L388.5 528.7L-4.0 528.7Z" fill="#00fffb" fill-rule="evenodd"/>
<path d="M-4.0 -4.0L48.5 -4.0L48.7 4.0L49.5 8.0L50.9 12.0L53.1 16.0L56.0 20.0L59.5 24.0L64.1 27.9L68.1 30.8L72.1 33.0L76.1 34.8L84.1 37.5L92.1 39.1L104.1 40.0L124.2 40.0L132.2 39.6L144.2 37.5L152.2 34.8L160.2 30.8L164.2 27.9L168.8 24.0L172.3 20.0L175.2 16.0L177.4 12.0L178.8 8.0L179.6 4.0L179.9 -4.0L214.1 -4.0L214.4 4.0L215.3 8.0L218.8 16.0L221.6 20.0L225.3 24.0L232.3 29.8L240.3 34.2L244.3 35.7L252.3 38.1L256.3 38.9L268.4 40.0L288.4 40.1L300.4 39.4L308.4 37.9L312.4 36.8L320.4 33.8L324.4 31.7L330.0 28.0L334.7 24.0L338.3 20.0L343.2 12.0L345.5 4.0L345.8 -4.0L388.5 -4.0L388.5 528.7L-4.0 528.7Z" fill="#00ffec" fill-rule="evenodd"/>
<path d="M-4.0 40.1L40.1 39.1L48.1 40.3L65.9 44.1L80.1 45.6L100.1 46.8L124.2 46.8L140.2 46.2L160.5 44.1L188.2 37.6L192.3 37.1L200.3 37.1L208.3 38.1L232.3 43.8L240.3 44.9L260.3 46.6L288.4 46.9L304.4 46.4L324.4 44.5L328.4 44.1L352.5 39.4L360.5 39.2L388.5 40.1L388.5 528.7L-4.0 528.7Z" fill="#00ffdc" fill-rule="evenodd"/>
<path d="M-4.0 52.1L-4.0 51.2L52.1 50.9L96.1 52.5L128.2 52.5L180.2 50.5L220.3 50.6L252.3 52.1L272.4 52.6L300.4 52.5L336.4 51.0L388.5 51.2L388.5 528.7L-4.0 528.7Z" fill="#00ffcc" fill-rule="evenodd"/>
<path d="M-4.0 60.1L-4.0 57.4L64.1 57.1L124.2 57.6L164.2 56.9L192.3 56.9L232.3 56.9L272.4 57.6L328.4 57.2L388.5 57.4L388.5 528.7L-4.0 528.7Z" fill="#00ffbb" fill-rule="evenodd"/>
<path d="M-4.0 64.1L-4.0 62.3L192.3 61.8L388.5 62.3L388.5 528.7L-4.0 528.7Z" fill="#00ffaa" fill-rule="evenodd"/>
<path d="M-4.0 68.1L-4.0 67.1L96.1 66.6L244.3 66.5L388.5 67.1L388.5 528.7L-4.0 528.7Z" fill="#00ff98" fill-rule="evenodd"/>
<path d="M1.7 72.1L196.3 71.5L388.5 72.1L388.5 528.7L-4.0 528.7L-4.0 72.1Z" fill="#00ff86" fill-rule="evenodd"/>
<path d="M-4.0 80.1L-4.0 77.3L192.3 76.6L388.5 77.3L388.5 528.7L-4.0 528.7Z" fill="#00ff73" fill-rule="evenodd"/>
<path d="M-4.0 84.1L-4.0 82.4L68.1 82.0L228.3 81.8L388.5 82.4L388.5 528.7L-4.0 528.7Z" fill="#00ff59" fill-rule="evenodd"/>
<path d="M-4.0 88.1L-4.0 87.5L152.2 86.9L272.4 87.0L388.5 87.5L388.5 528.7L-4.0 528.7Z" fill="#00ff3e" fill-rule="evenodd"/>
<path d="M90.0 92.1L240.3 92.0L388.5 92.6L388.5 528.7L-4.0 528.7L-4.0 92.6Z" fill="#00ff1f" fill-rule="evenodd"/>
<path d="M-4.0 100.1L-4.0 97.8L44.1 97.5L216.3 97.0L388.5 97.8L388.5 528.7L-4.0 528.7Z" fill="#00ff00" fill-rule="evenodd"/>
<path d="M-4.0 104.1L-4.0 103.1L132.2 102.4L260.3 102.4L388.5 103.1L388.5 528.7L-4.0 528.7Z" fill="#1fff00" fill-rule="evenodd"/>
<path d="M58.1 108.1L224.3 107.7L388.5 108.6L388.5 528.7L-4.0 528.7L-4.0 108.6Z" fill="#3eff00" fill-rule="evenodd"/>
<path d="M-4.0 116.2L-4.0 114.4L112.1 113.6L252.3 113.5L388.5 114.4L388.5 528.7L-4.0 528.7Z" fill="#59ff00" fill-rule="evenodd"/>
<path d="M41.4 120.2L216.3 119.5L388.5 120.6L388.5 528.7L-4.0 528.7L-4.0 120.6Z" fill="#73ff00" fill-rule="evenodd"/>
<path d="M-4.0 128.2L-4.0 127.3L164.2 126.1L276.4 126.3L388.5 127.3L388.5 528.7L-4.0 528.7Z" fill="#86ff00" fill-rule="evenodd"/>
<path d="M-4.0 136.2L-4.0 135.0L156.2 133.5L272.4 133.7L388.5 135.0L388.5 528.7L-4.0 528.7Z" fill="#98ff00" fill-rule="evenodd"/>
<path d="M-4.0 144.2L-4.0 143.4L44.1 142.7L172.2 141.6L280.4 142.0L388.5 143.4L388.5 528.7L-4.0 528.7Z" fill="#aaff00" fill-rule="evenodd"/>
<path d="M23.3 152.2L116.2 150.9L208.3 150.6L300.4 151.2L388.5 152.7L388.5 528.7L-4.0 528.7L-4.0 152.7Z" fill="#bbff00" fill-rule="evenodd"/>
<path d="M-4.0 164.2L-4.0 163.0L40.1 162.0L104.1 161.0L172.2 160.5L280.4 160.9L388.5 163.0L388.5 528.7L-4.0 528.7Z" fill="#ccff00" fill-rule="evenodd"/>
<path d="M91.0 172.2L168.2 171.4L244.3 171.6L316.4 172.6L388.5 174.7L388.5 528.7L-4.0 528.7L-4.0 174.7Z" fill="#dcff00" fill-rule="evenodd"/>
<path d="M56.0 188.3L96.1 186.8L140.2 185.8L180.2 185.4L224.3 185.5L268.4 186.2L312.4 187.5L348.5 189.0L388.5 191.3L388.5 528.7L-4.0 528.7L-4.0 191.3Z" fill="#ecff00" fill-rule="evenodd"/>
<path d="M19.9 204.3L112.1 202.2L204.3 201.6L296.4 202.5L388.5 204.9L388.5 528.7L-4.0 528.7L-4.0 204.9Z" fill="#fbff00" fill-rule="evenodd"/>
<path d="M62.4 212.3L144.2 210.9L228.3 210.8L312.4 212.0L388.5 214.3L388.5 528.7L-4.0 528.7L-4.0 214.3Z" fill="#fff300" fill-rule="evenodd"/>
<path d="M2.9 224.3L48.1 222.6L96.1 221.4L144.2 220.6L196.3 220.4L292.4 221.4L340.4 222.6L388.5 224.4L388.5 528.7L-4.0 528.7L-4.0 224.4Z" fill="#ffe400" fill-rule="evenodd"/>
<path d="M73.8 232.3L152.2 230.8L232.3 230.7L312.4 232.2L388.5 235.3L388.5 528.7L-4.0 528.7L-4.0 235.3Z" fill="#ffd400" fill-rule="evenodd"/>
<path d="M50.3 244.3L92.1 242.8L136.2 241.9L220.3 241.5L264.3 242.1L308.4 243.2L348.5 244.8L388.5 246.9L388.5 528.7L-4.0 528.7L-4.0 246.9Z" fill="#ffc400" fill-rule="evenodd"/>
<path d="M51.9 256.3L92.1 254.7L136.2 253.5L180.2 253.0L224.3 253.1L268.4 253.8L308.4 255.1L348.5 257.0L388.5 259.5L388.5 528.7L-4.0 528.7L-4.0 259.5Z" fill="#ffb300" fill-rule="evenodd"/>
<path d="M72.2 268.4L112.1 266.7L152.2 265.7L196.3 265.4L236.3 265.7L276.4 266.7L316.3 268.4L352.5 270.5L388.5 273.4L388.5 528.7L-4.0 528.7L-4.0 273.4L0.0 273.4L36.1 270.5Z" fill="#ffa100" fill-rule="evenodd"/>
<path d="M116.2 280.4L152.2 279.3L188.2 278.9L224.3 279.1L260.3 280.0L296.4 281.5L328.4 283.4L360.5 286.0L388.5 289.0L388.5 528.7L-4.0 528.7L-4.0 289.0L0.0 289.0L28.0 286.0L56.1 283.7L84.1 281.9Z" fill="#ff8f00" fill-rule="evenodd"/>
<path d="M103.5 296.4L140.2 294.8L180.2 293.9L220.3 294.1L256.3 295.0L292.4 296.8L328.4 299.6L360.5 303.1L388.5 307.1L388.5 524.4L384.2 528.7L4.3 528.7L0.0 524.4L-4.0 524.4L-4.0 307.1L0.0 307.1L24.0 303.6L51.9 300.4L76.1 298.3Z" fill="#ff7e00" fill-rule="evenodd"/>
<path d="M129.1 312.4L164.2 311.1L200.3 310.8L236.3 311.4L272.4 313.2L308.4 316.2L336.4 319.6L364.5 324.1L388.5 329.3L388.5 500.2L362.2 528.7L26.3 528.7L0.0 500.2L-4.0 500.2L-4.0 329.3L0.0 329.3L28.0 323.4L60.1 318.5L92.1 315.0Z" fill="#ff6600" fill-rule="evenodd"/>
<path d="M133.3 332.4L172.2 330.6L208.3 330.5L248.3 332.0L284.4 335.1L316.4 339.6L332.4 342.6L344.4 345.3L356.1 348.5L368.5 352.5L378.7 356.5L387.1 360.5L388.5 361.2L388.5 464.3L360.7 500.7L347.5 516.7L336.9 528.7L51.6 528.7L41.0 516.7L27.8 500.7L0.0 464.3L-4.0 464.3L-4.0 361.2L0.0 361.2L12.0 355.6L28.0 349.8L40.1 346.4L56.1 342.6L72.1 339.6L92.1 336.5L112.1 334.2Z" fill="#ff4c00" fill-rule="evenodd"/>
<path d="M147.3 356.5L180.2 354.7L212.3 354.8L244.3 356.8L260.3 358.5L276.4 360.8L300.4 365.8L312.4 369.2L324.4 373.4L331.8 376.5L340.4 381.0L348.5 386.4L355.4 392.5L358.7 396.5L361.4 400.5L364.5 407.5L365.8 412.6L366.2 416.6L366.1 424.6L364.7 432.6L362.2 440.6L358.9 448.6L352.8 460.6L335.9 488.7L322.1 508.7L306.0 528.7L82.5 528.7L69.4 512.7L55.2 492.7L38.0 464.6L29.6 448.6L25.0 436.6L23.0 428.6L22.4 424.6L22.3 416.6L22.7 412.6L25.1 404.5L27.1 400.5L29.8 396.5L33.1 392.5L37.3 388.5L42.5 384.5L48.9 380.5L56.7 376.5L64.1 373.4L80.1 368.0L100.1 363.1L120.2 359.6Z" fill="#ff2f00" fill-rule="evenodd"/>
<path d="M184.3 388.5L204.3 388.5L224.3 390.0L241.4 392.5L252.3 395.0L260.3 397.2L272.4 401.7L278.3 404.5L285.1 408.5L290.4 412.6L294.5 416.6L297.7 420.6L300.2 424.6L302.0 428.6L303.3 432.6L304.4 440.6L304.4 444.6L303.3 452.6L300.0 464.6L291.9 484.6L288.0 492.7L283.6 500.7L278.5 508.7L272.7 516.7L262.3 528.7L126.2 528.7L119.0 520.7L112.8 512.7L107.4 504.7L102.6 496.7L96.6 484.6L89.9 468.6L86.1 456.6L84.5 448.6L84.1 440.6L85.2 432.6L88.1 424.9L90.8 420.6L96.1 414.4L103.4 408.5L112.1 403.5L124.2 398.6L136.2 395.0L152.2 391.6L168.2 389.6Z" fill="#ff1300" fill-rule="evenodd"/>
</g>
<g mask="url(#cd)" transform="translate(1291.0 736.0)">
<rect x="-4.0" y="-4.0" width="397.2" height="540.0" fill="#0007ff"/>
<path d="M-4.0 -4.0L95.6 -4.0L95.6 0.0L97.0 4.0L100.3 6.7L103.4 8.0L108.3 8.4L124.4 8.4L128.6 8.0L132.4 6.0L134.6 4.0L136.0 0.0L136.0 -4.0L262.9 -4.0L262.9 0.0L264.2 4.0L268.8 7.4L272.8 8.4L288.9 8.4L292.9 8.4L296.9 7.5L300.9 5.0L301.9 4.0L303.1 0.0L303.1 -4.0L393.2 -4.0L393.2 536.0L-4.0 536.0Z" fill="#0016ff" fill-rule="evenodd"/>
<path d="M-4.0 -4.0L90.9 -4.0L90.9 0.0L91.8 4.0L94.9 8.0L100.3 10.9L104.3 11.9L108.3 12.1L125.6 12.0L128.4 11.8L132.4 10.5L136.8 8.0L139.9 4.0L140.8 0.0L140.8 -4.0L258.1 -4.0L258.1 0.0L259.1 4.0L262.2 8.0L264.8 9.7L268.8 11.4L272.8 12.1L288.9 12.1L292.9 12.1L296.9 11.5L300.9 9.9L304.0 8.0L307.0 4.0L308.0 0.0L308.0 -4.0L393.2 -4.0L393.2 536.0L-4.0 536.0Z" fill="#0030ff" fill-rule="evenodd"/>
<path d="M-4.0 -4.0L87.0 -4.0L87.0 0.0L87.7 4.0L90.1 8.0L92.3 10.1L96.3 12.7L100.3 14.1L104.3 14.8L108.3 14.9L128.4 14.7L132.4 13.8L136.4 12.2L141.6 8.0L143.9 4.0L144.7 0.0L144.7 -4.0L254.3 -4.0L254.3 0.0L255.0 4.0L257.3 8.0L262.2 12.0L264.8 13.2L268.8 14.4L272.8 14.9L288.9 14.9L296.9 14.5L300.9 13.4L304.9 11.4L308.9 8.0L311.1 4.0L311.9 0.0L311.9 -4.0L393.2 -4.0L393.2 536.0L-4.0 536.0Z" fill="#004fff" fill-rule="evenodd"/>
<path d="M-4.0 -4.0L83.6 -4.0L83.6 0.0L84.2 4.0L86.1 8.0L89.9 12.0L92.3 13.7L97.2 16.0L104.3 17.5L108.3 17.6L128.4 17.4L132.4 16.6L136.4 15.2L141.8 12.0L145.5 8.0L147.5 4.0L148.1 0.0L148.1 -4.0L250.8 -4.0L250.8 0.0L251.4 4.0L253.3 8.0L257.0 12.0L260.8 14.4L264.8 16.2L268.8 17.1L272.8 17.5L288.9 17.6L296.9 17.2L300.9 16.3L304.9 14.6L309.1 12.0L312.8 8.0L314.7 4.0L315.3 0.0L315.3 -4.0L393.2 -4.0L393.2 536.0L-4.0 536.0Z" fill="#006dff" fill-rule="evenodd"/>
<path d="M-4.0 -4.0L80.3 -4.0L80.3 0.0L80.8 4.0L82.5 8.0L85.6 12.0L90.9 16.0L96.3 18.4L100.3 19.4L108.3 20.0L128.4 19.9L132.4 19.2L136.4 18.0L140.4 16.2L146.0 12.0L149.1 8.0L150.8 4.0L151.3 0.0L151.3 -4.0L247.6 -4.0L247.6 0.0L248.1 4.0L249.8 8.0L252.8 12.0L258.1 16.0L264.8 18.8L268.8 19.7L272.8 20.0L288.9 20.0L296.9 19.7L300.9 18.9L308.0 16.0L313.0 12.3L316.4 8.0L318.0 4.0L318.5 0.0L318.5 -4.0L393.2 -4.0L393.2 536.0L-4.0 536.0Z" fill="#0089ff" fill-rule="evenodd"/>
<path d="M-4.0 -4.0L77.3 -4.0L77.8 4.0L79.2 8.0L81.9 12.0L84.3 14.4L88.3 17.4L92.3 19.4L96.3 20.9L100.3 21.8L108.3 22.3L124.4 22.3L132.4 21.5L137.9 20.0L144.5 16.7L149.7 12.0L152.4 8.0L153.9 4.0L154.3 -4.0L244.5 -4.0L245.0 4.0L246.5 8.0L249.1 12.0L252.8 15.5L256.8 18.1L260.8 20.0L268.8 21.9L272.8 22.3L288.9 22.3L296.9 22.0L300.9 21.3L305.3 20.0L313.0 15.8L317.0 12.0L319.6 8.0L321.1 4.0L321.6 -4.0L393.2 -4.0L393.2 536.0L-4.0 536.0Z" fill="#009cff" fill-rule="evenodd"/>
<path d="M-4.0 -4.0L74.4 -4.0L74.9 4.0L76.2 8.0L78.6 12.0L82.3 16.0L88.1 20.0L92.3 21.9L100.3 24.0L108.3 24.5L124.4 24.5L132.4 23.8L140.4 21.4L144.5 19.5L149.3 16.0L153.1 12.0L155.4 8.0L156.8 4.0L157.2 -4.0L241.7 -4.0L242.1 4.0L243.4 8.0L245.8 12.0L249.6 16.0L252.8 18.4L256.8 20.7L260.8 22.3L268.8 24.2L288.9 24.5L296.9 24.2L304.9 22.4L310.7 20.0L316.6 16.0L320.3 12.0L322.7 8.0L324.0 4.0L324.4 -4.0L393.2 -4.0L393.2 536.0L-4.0 536.0Z" fill="#00afff" fill-rule="evenodd"/>
<path d="M-4.0 -4.0L71.6 -4.0L72.0 4.0L73.2 8.0L75.4 12.0L80.3 17.4L84.3 20.4L88.3 22.6L92.3 24.2L100.3 26.1L108.3 26.6L124.4 26.6L132.4 26.0L140.4 23.8L148.0 20.0L152.9 16.0L156.2 12.0L158.4 8.0L159.6 4.0L160.0 -4.0L238.8 -4.0L239.3 4.0L240.5 8.0L242.7 12.0L246.0 16.0L248.8 18.4L252.8 21.2L260.8 24.6L268.8 26.3L288.9 26.6L296.9 26.3L304.9 24.8L313.0 21.4L317.0 18.7L321.0 15.1L323.5 12.0L325.6 8.0L326.9 4.0L327.3 -4.0L393.2 -4.0L393.2 536.0L-4.0 536.0Z" fill="#00c2ff" fill-rule="evenodd"/>
<path d="M-4.0 -4.0L68.7 -4.0L69.1 4.0L70.3 8.0L72.2 12.0L75.2 16.0L79.5 20.0L84.3 23.2L92.3 26.6L100.3 28.3L108.3 28.7L124.4 28.7L132.4 28.1L140.4 26.2L148.5 22.5L152.5 19.7L156.4 16.0L159.4 12.0L161.3 8.0L162.5 4.0L162.9 -4.0L236.0 -4.0L236.4 4.0L237.5 8.0L239.5 12.0L242.5 16.0L248.8 21.4L252.8 23.8L256.8 25.6L264.8 27.9L272.8 28.7L288.9 28.7L296.9 28.5L304.9 27.1L313.0 24.0L319.4 20.0L325.0 14.3L328.7 8.0L329.7 4.0L330.1 -4.0L393.2 -4.0L393.2 536.0L-4.0 536.0Z" fill="#00d3ff" fill-rule="evenodd"/>
<path d="M-4.0 -4.0L66.0 -4.0L66.3 4.0L67.3 8.0L69.2 12.0L71.8 16.0L76.2 20.5L80.3 23.4L84.3 25.7L92.3 28.8L100.3 30.4L108.3 30.8L124.4 30.7L132.4 30.2L140.4 28.5L144.5 27.0L150.4 24.0L156.5 19.4L159.7 16.0L162.4 12.0L164.3 8.0L165.4 4.0L165.7 -4.0L233.2 -4.0L233.6 4.0L234.6 8.0L236.4 12.0L239.1 16.0L243.0 20.0L248.8 24.2L256.8 27.9L264.8 30.0L272.8 30.7L288.9 30.8L296.9 30.5L304.9 29.3L313.0 26.4L317.0 24.5L321.0 21.7L327.0 16.0L329.7 12.0L331.5 8.0L332.6 4.0L332.9 -4.0L393.2 -4.0L393.2 536.0L-4.0 536.0Z" fill="#00e3ff" fill-rule="evenodd"/>
<path d="M-4.0 -4.0L63.0 -4.0L63.4 4.0L66.1 12.0L68.7 16.0L72.2 20.0L76.2 23.4L80.3 26.2L88.3 29.9L100.3 32.6L108.3 33.0L124.4 33.0L132.4 32.4L140.4 30.7L144.5 29.5L152.5 25.5L159.4 20.0L163.0 16.0L165.5 12.0L167.2 8.0L168.1 4.0L168.4 -4.0L230.3 -4.0L230.6 4.0L231.6 8.0L233.4 12.0L235.9 16.0L239.4 20.0L244.8 24.4L252.8 28.8L256.8 30.3L264.8 32.1L272.8 33.0L288.9 33.0L296.9 32.8L309.0 30.4L313.0 29.0L317.0 27.0L321.0 24.7L325.0 21.6L330.3 16.0L334.5 8.0L335.5 4.0L335.8 -4.0L393.2 -4.0L393.2 536.0L-4.0 536.0Z" fill="#00f3ff" fill-rule="evenodd"/>
<path d="M-4.0 -4.0L59.1 -4.0L59.5 4.0L61.7 12.0L67.6 20.0L72.0 24.0L76.2 27.3L80.3 29.7L92.3 34.1L100.3 35.3L108.3 35.5L128.4 35.4L136.4 34.7L140.4 33.8L144.7 32.0L148.5 31.0L156.5 26.6L164.0 20.0L167.4 16.0L169.5 12.0L171.4 8.0L172.1 4.0L172.3 -4.0L226.2 -4.0L226.6 4.0L229.3 12.0L231.7 16.0L234.7 20.0L239.1 24.0L248.8 30.3L260.8 34.4L264.8 35.0L272.8 35.4L292.9 35.5L300.9 35.1L304.9 34.5L309.0 33.4L317.0 30.6L325.0 25.8L327.3 24.0L331.6 20.0L334.7 16.0L338.7 8.0L339.7 4.0L340.0 -4.0L393.2 -4.0L393.2 536.0L-4.0 536.0Z" fill="#00fffb" fill-rule="evenodd"/>
<path d="M-4.0 -4.0L49.0 -4.0L49.2 4.0L50.0 8.0L51.6 12.0L53.6 16.0L56.5 20.0L60.1 24.0L64.7 28.0L72.2 32.8L76.2 34.7L84.3 37.5L96.3 39.7L108.3 40.3L128.4 40.2L140.4 38.9L144.5 38.1L152.5 35.6L160.5 31.9L166.4 28.0L171.1 24.0L174.7 20.0L177.4 16.0L179.5 12.0L181.9 4.0L182.2 -4.0L216.9 -4.0L217.1 4.0L217.9 8.0L219.3 12.0L221.4 16.0L224.3 20.0L227.8 24.0L232.5 28.0L236.7 31.0L240.7 33.2L248.8 36.4L252.8 37.7L260.8 39.3L272.8 40.3L292.9 40.3L304.9 39.5L313.0 37.9L317.0 36.7L325.0 33.7L329.0 31.5L334.3 28.0L338.9 24.0L342.5 20.0L347.4 12.0L349.6 4.0L349.9 -4.0L393.2 -4.0L393.2 536.0L-4.0 536.0Z" fill="#00ffec" fill-rule="evenodd"/>
<path d="M11.8 40.0L40.1 39.3L48.2 40.5L68.2 44.4L88.3 46.5L104.3 47.2L132.4 47.0L152.5 45.5L164.4 44.0L188.6 38.2L196.6 37.3L204.6 37.4L208.6 37.9L236.7 44.3L256.8 46.5L272.8 47.2L296.9 47.2L317.0 46.0L334.4 44.0L349.1 40.9L357.1 39.6L393.2 40.3L393.2 536.0L-4.0 536.0L-4.0 40.3Z" fill="#00ffdc" fill-rule="evenodd"/>
<path d="M-4.0 52.0L-4.0 51.6L56.2 51.3L96.3 52.8L124.4 52.9L140.4 52.6L176.6 50.9L216.7 50.9L228.7 51.1L260.8 52.7L292.9 52.9L309.0 52.7L341.1 51.3L393.2 51.6L393.2 536.0L-4.0 536.0Z" fill="#00ffcc" fill-rule="evenodd"/>
<path d="M-4.0 60.0L-4.0 57.8L64.2 57.5L124.4 57.9L164.5 57.3L196.6 57.2L232.7 57.2L272.8 57.9L333.0 57.5L393.2 57.8L393.2 536.0L-4.0 536.0Z" fill="#00ffbb" fill-rule="evenodd"/>
<path d="M-4.0 64.0L-4.0 62.7L72.2 62.4L232.7 62.2L393.2 62.7L393.2 536.0L-4.0 536.0Z" fill="#00ffaa" fill-rule="evenodd"/>
<path d="M-4.0 68.0L-4.0 67.5L148.5 66.9L393.2 67.5L393.2 536.0L-4.0 536.0Z" fill="#00ff98" fill-rule="evenodd"/>
<path d="M141.6 72.0L393.2 72.6L393.2 536.0L-4.0 536.0L-4.0 72.6Z" fill="#00ff86" fill-rule="evenodd"/>
<path d="M-4.0 80.0L-4.0 77.8L196.6 77.1L393.2 77.8L393.2 536.0L-4.0 536.0Z" fill="#00ff73" fill-rule="evenodd"/>
<path d="M-4.0 84.0L-4.0 82.9L116.4 82.4L256.8 82.3L393.2 82.9L393.2 536.0L-4.0 536.0Z" fill="#00ff59" fill-rule="evenodd"/>
<path d="M13.1 88.0L204.6 87.4L393.2 88.1L393.2 536.0L-4.0 536.0L-4.0 88.1Z" fill="#00ff3e" fill-rule="evenodd"/>
<path d="M-4.0 96.0L-4.0 93.2L196.6 92.5L393.2 93.2L393.2 536.0L-4.0 536.0Z" fill="#00ff1f" fill-rule="evenodd"/>
<path d="M-4.0 100.0L-4.0 98.4L92.3 97.9L244.8 97.7L393.2 98.4L393.2 536.0L-4.0 536.0Z" fill="#00ff00" fill-rule="evenodd"/>
<path d="M-4.0 104.0L-4.0 103.7L60.2 103.3L180.6 102.9L393.2 103.7L393.2 536.0L-4.0 536.0Z" fill="#1fff00" fill-rule="evenodd"/>
<path d="M-4.0 112.0L-4.0 109.3L52.2 108.9L224.7 108.4L393.2 109.3L393.2 536.0L-4.0 536.0Z" fill="#3eff00" fill-rule="evenodd"/>
<path d="M-4.0 116.0L-4.0 115.2L156.5 114.2L276.9 114.3L393.2 115.2L393.2 536.0L-4.0 536.0Z" fill="#59ff00" fill-rule="evenodd"/>
<path d="M-4.0 124.0L-4.0 121.4L80.3 120.6L236.7 120.3L393.2 121.4L393.2 536.0L-4.0 536.0Z" fill="#73ff00" fill-rule="evenodd"/>
<path d="M8.2 128.0L104.3 127.1L200.6 126.8L296.9 127.2L393.2 128.1L393.2 536.0L-4.0 536.0L-4.0 128.1Z" fill="#86ff00" fill-rule="evenodd"/>
<path d="M-4.0 136.0L88.3 134.8L192.6 134.3L292.9 134.7L393.2 135.8L393.2 536.0L-4.0 536.0Z" fill="#98ff00" fill-rule="evenodd"/>
<path d="M17.1 144.0L108.3 142.9L204.6 142.5L300.9 143.0L393.2 144.3L393.2 536.0L-4.0 536.0L-4.0 144.3Z" fill="#aaff00" fill-rule="evenodd"/>
<path d="M100.1 152.0L172.5 151.5L248.8 151.6L321.0 152.3L393.2 153.7L393.2 536.0L-4.0 536.0L-4.0 153.7Z" fill="#bbff00" fill-rule="evenodd"/>
<path d="M0.5 164.0L96.3 162.1L196.6 161.4L296.9 162.1L393.2 164.0L393.2 536.0L-4.0 536.0L-4.0 164.0Z" fill="#ccff00" fill-rule="evenodd"/>
<path d="M-4.0 176.0L-4.0 175.7L88.3 173.4L192.6 172.4L292.9 173.2L393.2 175.7L393.2 536.0L-4.0 536.0Z" fill="#dcff00" fill-rule="evenodd"/>
<path d="M94.4 188.0L172.5 186.6L248.8 186.9L321.0 188.8L393.2 192.5L393.2 536.0L-4.0 536.0L-4.0 192.5L52.2 189.6Z" fill="#ecff00" fill-rule="evenodd"/>
<path d="M88.8 204.0L160.5 203.0L232.7 203.0L325.0 204.4L393.2 206.1L393.2 536.0L-4.0 536.0L-4.0 206.1Z" fill="#fbff00" fill-rule="evenodd"/>
<path d="M190.7 212.0L292.9 212.8L393.2 215.6L393.2 536.0L-4.0 536.0L-4.0 215.6L96.3 212.9Z" fill="#fff300" fill-rule="evenodd"/>
<path d="M48.8 224.0L136.4 222.1L224.7 221.8L313.0 223.1L393.2 225.8L393.2 536.0L-4.0 536.0L-4.0 225.8Z" fill="#ffe400" fill-rule="evenodd"/>
<path d="M190.3 232.0L240.7 232.2L292.9 233.1L345.1 234.7L393.2 236.7L393.2 536.0L-4.0 536.0L-4.0 236.7L52.2 234.5L96.3 233.2L144.5 232.3Z" fill="#ffd400" fill-rule="evenodd"/>
<path d="M106.4 244.0L180.6 242.9L252.8 243.3L325.0 245.2L393.2 248.5L393.2 536.0L-4.0 536.0L-4.0 248.5L56.2 245.6Z" fill="#ffc400" fill-rule="evenodd"/>
<path d="M100.6 256.0L176.6 254.6L252.8 255.0L325.0 257.2L393.2 261.2L393.2 536.0L-4.0 536.0L-4.0 261.2L52.2 258.0Z" fill="#ffb300" fill-rule="evenodd"/>
<path d="M125.5 268.0L196.6 267.0L264.8 267.9L300.9 269.2L333.0 270.7L361.1 272.5L393.2 275.1L393.2 536.0L-4.0 536.0L-4.0 275.1L0.0 275.1L32.1 272.5L64.2 270.5Z" fill="#ffa100" fill-rule="evenodd"/>
<path d="M79.0 284.0L120.4 282.0L160.5 281.0L200.6 280.7L240.7 281.1L280.9 282.3L321.0 284.4L361.1 287.5L393.2 290.8L393.2 536.0L-4.0 536.0L-4.0 290.8L0.0 290.8L44.1 286.5Z" fill="#ff8f00" fill-rule="evenodd"/>
<path d="M164.3 296.0L196.6 295.7L228.7 296.0L260.8 296.9L288.9 298.3L317.0 300.2L345.1 302.7L369.1 305.5L393.2 309.0L393.2 527.7L388.8 532.0L388.8 536.0L4.4 536.0L4.4 532.0L4.0 531.6L0.0 527.7L-4.0 527.7L-4.0 309.0L0.0 309.0L40.1 303.6L78.5 300.0L120.4 297.4Z" fill="#ff7e00" fill-rule="evenodd"/>
<path d="M105.3 316.0L144.5 313.7L184.6 312.7L224.7 313.0L264.8 314.5L300.9 317.1L333.0 320.6L365.1 325.5L393.2 331.4L393.2 503.3L366.6 532.0L366.6 536.0L26.6 536.0L26.6 532.0L0.0 503.3L-4.0 503.3L-4.0 331.4L0.0 331.4L24.1 326.2L52.2 321.6L76.2 318.7Z" fill="#ff6600" fill-rule="evenodd"/>
<path d="M116.8 336.0L156.5 333.3L196.6 332.4L236.7 333.3L272.8 335.7L309.0 339.9L337.0 344.9L350.7 348.0L365.0 352.0L376.6 356.0L386.2 360.0L393.2 363.5L393.2 467.2L364.9 504.0L351.6 520.0L341.0 532.0L341.0 536.0L52.2 536.0L52.2 532.0L41.6 520.0L28.3 504.0L0.0 467.2L-4.0 467.2L-4.0 363.5L0.0 363.5L12.0 357.8L28.2 352.0L40.1 348.6L52.2 345.7L64.2 343.2L83.4 340.0Z" fill="#ff4c00" fill-rule="evenodd"/>
<path d="M135.8 360.0L152.5 358.4L172.5 357.3L188.6 356.8L208.6 356.9L228.7 357.7L244.8 358.8L260.8 360.4L276.9 362.6L288.9 364.7L304.9 368.3L317.9 372.0L329.2 376.0L338.2 380.0L345.6 384.0L353.1 389.1L356.6 392.0L360.6 396.0L363.8 400.0L366.3 404.0L368.2 408.0L370.3 416.0L370.7 420.0L370.4 428.0L368.9 436.0L366.3 444.0L362.9 452.0L358.9 460.0L344.8 484.0L337.1 496.0L328.8 508.0L319.7 520.0L309.7 532.0L309.7 536.0L83.5 536.0L83.5 532.0L70.4 516.0L56.1 496.0L41.1 472.0L32.2 456.0L26.9 444.0L23.4 432.0L22.4 424.0L22.5 420.0L23.7 412.0L25.0 408.0L28.1 402.0L32.1 396.6L36.1 392.4L44.1 386.2L48.2 383.7L56.2 379.4L64.0 376.0L72.2 373.0L89.4 368.0L108.3 364.0Z" fill="#ff2f00" fill-rule="evenodd"/>
<path d="M170.2 392.0L192.6 390.8L212.7 391.2L232.7 393.1L252.8 396.8L268.8 401.5L275.2 404.0L283.4 408.0L289.8 412.0L294.9 416.0L298.8 420.0L301.9 424.0L304.2 428.0L306.0 432.0L307.8 440.0L308.1 444.0L307.6 452.0L304.8 464.0L302.0 472.0L297.1 484.0L289.2 500.0L284.4 508.0L278.9 516.0L272.7 524.0L265.5 532.0L265.5 536.0L127.7 536.0L127.7 532.0L117.3 520.0L108.8 508.0L101.8 496.0L96.1 484.0L91.2 472.0L87.2 460.0L85.6 452.0L85.1 444.0L86.1 436.0L87.2 432.0L89.0 428.0L91.3 424.0L94.4 420.0L100.3 414.3L108.3 408.8L118.0 404.0L128.7 400.0L143.9 396.0L156.5 393.7Z" fill="#ff1300" fill-rule="evenodd"/>
</g>
<path d="M434.2 208.5L726.8 38.5M726.8 38.5L726.8 495.8M726.8 495.8L434.2 665.8M434.2 665.8L434.2 208.5M434.2 208.5L447.6 216.0M726.8 38.5L740.2 46.0M726.8 495.8L740.2 503.3M434.2 665.8L447.6 673.3M493.1 117.3L541.9 88.9M541.9 88.9L541.9 145.9M541.9 145.9L493.1 174.3M493.1 174.3L493.1 117.3M493.1 117.3L506.5 124.8M541.9 88.9L555.3 96.4M541.9 145.9L555.3 153.4M493.1 174.3L506.5 181.8M618.7 44.3L666.8 16.4M666.8 16.4L666.8 73.4M666.8 73.4L618.7 101.3M618.7 101.3L618.7 44.3M618.7 44.3L632.1 51.8M666.8 16.4L680.2 23.9M666.8 73.4L680.2 80.9M618.7 101.3L632.1 108.8" fill="none" stroke="#555" stroke-width="1.0" opacity="0.5"/>
<g mask="url(#ca)" transform="matrix(1 -0.581 0 1 447.6 216.0)">
<rect x="-4.0" y="-61.0" width="296.6" height="522.3" fill="#0007ff"/>
<path d="M-4.0 -61.0L60.0 -61.0L60.1 -5.2L64.1 -1.2L68.1 -1.1L100.2 -1.1L104.2 -2.1L106.2 -5.2L106.3 -61.0L185.9 -61.0L186.0 -5.2L188.4 -1.7L191.5 -1.2L224.5 -1.1L228.5 -1.6L231.2 -5.2L231.3 -61.0L292.6 -61.0L292.6 461.3L-4.0 461.3Z" fill="#0016ff" fill-rule="evenodd"/>
<path d="M-4.0 -61.0L57.7 -61.0L57.8 -5.2L59.4 -1.2L60.1 -0.5L64.1 1.1L68.1 1.2L100.2 1.2L104.2 0.7L107.1 -1.2L109.0 -5.2L109.0 -61.0L183.2 -61.0L183.3 -5.2L184.4 -2.1L185.0 -1.2L188.4 0.9L192.4 1.2L224.5 1.2L228.5 0.9L232.2 -1.2L233.8 -5.2L233.8 -61.0L292.6 -61.0L292.6 461.3L-4.0 461.3Z" fill="#0030ff" fill-rule="evenodd"/>
<path d="M-4.0 -61.0L55.6 -61.0L55.6 -5.2L57.0 -1.2L60.1 1.9L64.1 3.3L68.1 3.3L100.2 3.3L104.2 3.0L108.2 0.5L109.6 -1.2L110.9 -5.2L110.9 -61.0L181.3 -61.0L181.3 -5.2L182.6 -1.2L184.4 0.9L188.4 3.1L224.5 3.3L228.5 3.1L232.5 1.1L234.5 -1.2L235.8 -5.2L235.8 -61.0L292.6 -61.0L292.6 461.3L-4.0 461.3Z" fill="#004fff" fill-rule="evenodd"/>
<path d="M-4.0 -61.0L53.8 -61.0L53.8 -5.2L54.9 -1.2L56.1 0.6L58.3 2.8L60.1 4.0L64.1 5.1L68.1 5.1L100.2 5.1L104.2 4.8L108.4 2.8L111.7 -1.2L112.8 -5.2L112.8 -61.0L179.4 -61.0L179.4 -5.2L180.5 -1.2L183.8 2.8L188.4 4.9L224.5 5.1L228.5 4.9L233.3 2.8L236.6 -1.2L237.7 -5.2L237.7 -61.0L292.6 -61.0L292.6 461.3L-4.0 461.3Z" fill="#006dff" fill-rule="evenodd"/>
<path d="M-4.0 -61.0L52.0 -61.0L52.1 -4.6L52.9 -1.2L56.1 3.4L60.1 5.9L64.1 6.9L68.1 6.9L104.2 6.6L108.2 5.0L111.0 2.8L112.2 1.2L113.6 -1.2L114.5 -5.2L114.6 -61.0L177.6 -61.0L177.6 -5.2L178.6 -1.2L180.4 1.9L184.4 5.3L188.4 6.7L224.5 6.9L228.5 6.8L232.5 5.4L236.0 2.8L238.5 -1.2L239.5 -5.2L239.5 -61.0L292.6 -61.0L292.6 461.3L-4.0 461.3Z" fill="#0089ff" fill-rule="evenodd"/>
<path d="M-4.0 -61.0L50.3 -61.0L50.3 -5.2L51.1 -1.2L53.3 2.8L56.1 5.6L58.1 6.8L60.1 7.8L64.1 8.5L68.1 8.5L104.2 8.3L108.6 6.8L113.3 2.8L115.5 -1.2L116.3 -5.2L116.3 -61.0L175.9 -61.0L175.9 -5.2L176.7 -1.2L178.9 2.8L180.4 4.4L183.6 6.8L188.4 8.4L224.5 8.5L228.5 8.4L233.5 6.8L236.5 4.6L238.2 2.8L240.4 -1.2L241.2 -5.2L241.2 -61.0L292.6 -61.0L292.6 461.3L-4.0 461.3Z" fill="#009cff" fill-rule="evenodd"/>
<path d="M-4.0 -61.0L48.6 -61.0L48.6 -5.2L49.3 -1.2L51.2 2.8L56.1 7.7L60.1 9.5L64.1 10.2L68.1 10.2L104.2 10.0L108.2 8.8L111.6 6.8L115.4 2.8L117.3 -1.2L118.0 -5.2L118.0 -61.0L174.2 -61.0L174.2 -5.2L174.9 -1.2L176.8 2.8L180.5 6.8L184.4 9.0L188.4 10.0L224.5 10.2L228.5 10.1L232.5 9.1L236.5 6.9L240.3 2.8L242.2 -1.2L242.9 -5.2L242.9 -61.0L292.6 -61.0L292.6 461.3L-4.0 461.3Z" fill="#00afff" fill-rule="evenodd"/>
<path d="M-4.0 -61.0L46.7 -61.0L46.8 -5.2L47.5 -1.2L49.1 2.8L52.1 6.6L56.1 9.7L60.1 11.3L64.1 11.9L68.1 12.0L104.2 11.7L108.2 10.6L112.2 8.5L114.3 6.8L117.5 2.8L119.2 -1.2L119.7 -5.2L119.8 -61.0L172.5 -61.0L172.5 -5.2L173.1 -1.2L174.7 2.8L177.9 6.8L180.4 8.8L184.4 10.8L188.4 11.8L224.5 12.0L228.5 11.9L232.5 10.9L236.5 9.0L239.2 6.8L242.4 2.8L244.0 -1.2L244.6 -5.2L244.6 -61.0L292.6 -61.0L292.6 461.3L-4.0 461.3Z" fill="#00c2ff" fill-rule="evenodd"/>
<path d="M-4.0 -61.0L44.8 -61.0L44.8 -5.2L45.3 -1.2L46.9 2.8L49.5 6.8L52.1 9.3L54.3 10.8L60.1 13.3L64.1 13.8L68.1 13.8L104.2 13.6L108.2 12.7L112.2 10.7L117.0 6.8L119.8 2.8L121.2 -1.2L121.8 -5.2L121.8 -61.0L170.4 -61.0L170.4 -5.2L171.0 -1.2L172.5 2.8L175.2 6.8L180.4 11.0L184.4 12.8L188.4 13.7L224.5 13.8L228.5 13.8L232.5 13.0L237.2 10.8L242.0 6.8L244.6 2.8L246.1 -1.2L246.7 -5.2L246.8 -61.0L292.6 -61.0L292.6 461.3L-4.0 461.3Z" fill="#00d3ff" fill-rule="evenodd"/>
<path d="M-4.0 -61.0L42.5 -61.0L42.5 -5.2L43.0 -1.2L44.4 2.8L46.6 6.8L52.1 12.0L56.1 14.1L60.1 15.4L68.1 15.9L104.2 15.7L108.2 14.8L112.2 13.2L116.2 10.6L119.9 6.8L122.3 2.8L123.5 -1.2L124.0 -5.2L124.0 -61.0L168.2 -61.0L168.2 -5.2L168.7 -1.2L170.0 2.8L172.3 6.8L176.2 10.8L180.4 13.4L184.4 15.0L188.4 15.7L224.5 15.9L228.5 15.8L232.5 15.1L236.5 13.6L241.0 10.8L244.9 6.8L247.1 2.8L248.4 -1.2L249.0 -5.2L249.0 -61.0L292.6 -61.0L292.6 461.3L-4.0 461.3Z" fill="#00e3ff" fill-rule="evenodd"/>
<path d="M-4.0 -61.0L40.0 -61.0L40.1 -5.2L40.5 -1.2L41.5 2.8L43.6 6.8L46.8 10.8L52.1 14.7L56.1 16.7L60.1 17.7L64.1 18.1L104.2 17.9L108.2 17.2L112.2 15.8L116.2 13.5L119.6 10.8L123.0 6.8L125.1 2.8L126.4 -1.2L126.8 -5.2L126.8 -61.0L165.5 -61.0L165.5 -5.2L165.9 -1.2L167.0 2.8L169.3 6.8L172.7 10.8L176.4 13.8L180.4 16.0L184.4 17.3L188.4 17.9L192.4 18.0L224.5 18.1L232.5 17.5L236.5 16.3L240.5 14.1L244.6 10.8L247.9 6.8L250.1 2.8L251.2 -1.2L251.6 -5.2L251.6 -61.0L292.6 -61.0L292.6 461.3L-4.0 461.3Z" fill="#00f3ff" fill-rule="evenodd"/>
<path d="M-4.0 -61.0L35.5 -61.0L35.5 -5.2L36.7 2.8L38.6 6.8L41.4 10.8L48.1 16.2L56.1 19.8L60.1 20.9L64.1 21.2L104.2 21.0L108.2 20.3L116.2 17.3L120.3 14.5L124.5 10.8L127.8 6.8L129.7 2.8L130.8 -1.2L131.3 -5.2L131.3 -61.0L161.0 -61.0L161.0 -5.2L161.3 -1.2L162.5 2.8L164.5 6.8L168.4 11.4L176.4 17.5L184.4 20.4L188.4 21.0L192.4 21.1L224.5 21.2L232.5 20.7L240.5 17.9L245.4 14.7L250.0 10.8L252.9 6.8L254.7 2.8L255.8 -1.2L256.1 -5.2L256.1 -61.0L292.6 -61.0L292.6 461.3L-4.0 461.3Z" fill="#00fffb" fill-rule="evenodd"/>
<path d="M140.2 10.8L152.3 10.7L156.3 11.6L166.6 18.7L172.4 21.7L180.4 24.5L188.4 25.6L224.5 26.0L232.5 25.7L240.5 24.0L244.5 22.5L248.5 20.7L260.5 14.0L264.6 13.9L292.6 15.6L292.6 461.3L-4.0 461.3L-4.0 15.4L28.1 13.7L32.1 14.3L44.1 21.2L52.1 24.3L56.1 25.2L64.1 26.0L104.2 25.6L112.2 24.3L120.3 21.5L125.6 18.7L136.3 11.4Z" fill="#00ffec" fill-rule="evenodd"/>
<path d="M115.4 30.7L144.3 30.3L176.4 30.7L188.4 31.5L244.5 32.6L292.6 35.5L292.6 461.3L-4.0 461.3L-4.0 35.4L48.1 32.5L104.2 31.4Z" fill="#00ffdc" fill-rule="evenodd"/>
<path d="M85.0 38.7L136.3 37.8L188.4 38.2L244.5 40.2L292.6 43.1L292.6 461.3L-4.0 461.3L-4.0 42.9L44.1 40.2Z" fill="#00ffcc" fill-rule="evenodd"/>
<path d="M35.4 46.6L68.1 45.1L100.2 44.1L132.3 43.7L164.3 43.7L196.4 44.3L228.5 45.4L292.6 49.1L292.6 461.3L-4.0 461.3L-4.0 48.9Z" fill="#00ffbb" fill-rule="evenodd"/>
<path d="M68.9 50.6L124.3 49.3L180.4 49.5L236.5 51.3L292.6 54.7L292.6 461.3L-4.0 461.3L-4.0 54.5Z" fill="#00ffaa" fill-rule="evenodd"/>
<path d="M106.9 54.6L156.3 54.3L204.4 55.1L248.5 56.9L292.6 59.8L292.6 461.3L-4.0 461.3L-4.0 59.6L56.1 56.2Z" fill="#00ff98" fill-rule="evenodd"/>
<path d="M125.5 58.6L168.4 58.6L208.4 59.5L248.5 61.3L292.6 64.2L292.6 461.3L-4.0 461.3L-4.0 64.0L64.1 60.2Z" fill="#00ff86" fill-rule="evenodd"/>
<path d="M118.1 62.6L160.3 62.5L204.4 63.3L248.5 65.2L292.6 68.2L292.6 461.3L-4.0 461.3L-4.0 68.0L60.1 64.3Z" fill="#00ff73" fill-rule="evenodd"/>
<path d="M104.2 66.6L152.3 66.1L200.4 67.0L248.5 69.0L292.6 72.0L292.6 461.3L-4.0 461.3L-4.0 71.8L56.1 68.2Z" fill="#00ff59" fill-rule="evenodd"/>
<path d="M93.5 70.6L144.3 69.9L196.4 70.6L244.5 72.6L292.6 75.9L292.6 461.3L-4.0 461.3L-4.0 75.7L48.1 72.4Z" fill="#00ff3e" fill-rule="evenodd"/>
<path d="M88.4 74.6L140.3 73.7L192.4 74.3L244.5 76.5L292.6 79.9L292.6 461.3L-4.0 461.3L-4.0 79.7L0.0 79.7L48.1 76.3Z" fill="#00ff1f" fill-rule="evenodd"/>
<path d="M92.6 78.5L144.3 77.8L196.4 78.5L248.5 80.9L292.6 84.2L292.6 461.3L-4.0 461.3L-4.0 84.0L0.0 84.0L48.1 80.5Z" fill="#00ff00" fill-rule="evenodd"/>
<path d="M120.5 82.5L164.3 82.5L208.4 83.5L252.5 85.8L292.6 89.0L292.6 461.3L-4.0 461.3L-4.0 88.8L0.0 88.8L28.1 86.4L60.1 84.5L92.2 83.2Z" fill="#1fff00" fill-rule="evenodd"/>
<path d="M41.2 90.5L72.2 88.8L104.2 87.7L136.3 87.2L168.4 87.3L200.4 88.1L232.5 89.5L260.5 91.3L292.6 94.1L292.6 461.3L-4.0 461.3L-4.0 93.9L0.0 93.9Z" fill="#3eff00" fill-rule="evenodd"/>
<path d="M59.0 94.5L88.2 93.1L120.3 92.3L152.3 92.1L180.4 92.5L208.4 93.4L236.5 94.8L264.6 96.8L292.6 99.5L292.6 461.3L-4.0 461.3L-4.0 99.2L0.0 99.2L28.1 96.6Z" fill="#59ff00" fill-rule="evenodd"/>
<path d="M84.2 98.5L136.3 97.3L164.3 97.4L192.4 98.0L216.5 99.0L244.5 100.7L268.6 102.6L292.6 105.1L292.6 461.3L-4.0 461.3L-4.0 104.8L0.0 104.8L44.1 100.8Z" fill="#73ff00" fill-rule="evenodd"/>
<path d="M43.0 106.4L76.2 104.3L108.2 103.1L140.3 102.6L172.4 102.9L204.4 103.9L236.5 105.7L264.6 108.0L292.6 111.1L292.6 461.3L-4.0 461.3L-4.0 110.8L0.0 110.8Z" fill="#86ff00" fill-rule="evenodd"/>
<path d="M70.2 110.4L100.2 109.0L128.3 108.4L160.3 108.3L188.4 109.0L219.8 110.4L244.5 112.2L268.6 114.5L292.6 117.6L292.6 461.3L-4.0 461.3L-4.0 117.2L0.0 117.2L36.1 113.1Z" fill="#98ff00" fill-rule="evenodd"/>
<path d="M126.4 114.4L172.4 114.6L216.5 116.5L256.5 119.9L276.6 122.3L292.6 124.7L292.6 461.3L-4.0 461.3L-4.0 124.3L0.0 124.3L28.1 120.5L60.1 117.4L92.2 115.5Z" fill="#aaff00" fill-rule="evenodd"/>
<path d="M87.4 122.4L116.2 121.2L144.3 120.9L172.4 121.2L200.4 122.3L224.5 123.9L250.7 126.4L272.6 129.3L292.6 132.7L292.6 461.3L-4.0 461.3L-4.0 132.2L0.0 132.2L16.0 129.5L40.1 126.3L64.1 124.0Z" fill="#bbff00" fill-rule="evenodd"/>
<path d="M77.7 130.4L108.2 128.7L136.3 128.0L168.4 128.2L196.4 129.4L224.5 131.4L251.2 134.4L276.1 138.3L292.6 141.9L292.6 461.3L-4.0 461.3L-4.0 141.3L0.0 141.3L16.0 137.9L38.8 134.4L56.1 132.3Z" fill="#ccff00" fill-rule="evenodd"/>
<path d="M77.4 138.3L108.2 136.3L136.3 135.6L168.4 135.9L196.4 137.1L224.5 139.5L248.5 142.6L272.6 147.1L292.6 152.5L292.6 461.3L-4.0 461.3L-4.0 151.7L0.0 151.7L20.0 146.5L40.1 142.8L56.1 140.6Z" fill="#dcff00" fill-rule="evenodd"/>
<path d="M81.0 146.3L112.2 144.1L144.3 143.4L176.4 144.1L204.4 145.9L232.5 149.1L256.5 153.4L276.6 158.7L284.6 161.4L292.6 164.8L292.6 461.3L-4.0 461.3L-4.0 163.6L0.0 163.6L16.0 157.8L36.1 152.9L56.1 149.3Z" fill="#ecff00" fill-rule="evenodd"/>
<path d="M84.7 154.3L116.2 151.9L148.3 151.3L180.4 152.3L196.4 153.4L212.4 155.1L236.5 158.8L248.5 161.3L260.5 164.6L276.6 170.3L284.7 174.2L292.6 179.0L292.6 461.3L-4.0 461.3L-4.0 177.3L0.0 177.3L8.0 172.8L16.0 169.2L24.1 166.2L36.1 162.7L48.1 159.9L60.1 157.6Z" fill="#fbff00" fill-rule="evenodd"/>
<path d="M86.0 162.3L100.2 160.8L116.2 159.6L132.3 159.0L152.3 158.9L184.4 160.3L200.4 161.8L216.5 164.0L228.5 166.1L240.5 168.8L252.5 172.3L260.5 175.1L268.6 178.5L276.6 182.7L284.6 187.9L292.6 194.3L292.6 461.3L-4.0 461.3L-4.0 192.1L0.0 192.1L8.0 186.1L16.0 181.2L24.1 177.3L36.1 172.7L48.1 169.2L60.1 166.4L72.2 164.2Z" fill="#fff300" fill-rule="evenodd"/>
<path d="M139.6 166.2L164.3 166.6L188.4 168.3L212.4 171.5L232.5 175.8L248.5 180.8L256.5 184.1L264.6 187.9L276.6 195.3L292.6 207.6L292.6 461.3L-4.0 461.3L-4.0 205.5L0.0 205.5L8.0 199.2L16.0 193.5L28.9 186.2L40.1 181.3L56.1 176.2L76.2 171.8L96.2 168.9L116.2 167.1Z" fill="#ffe400" fill-rule="evenodd"/>
<path d="M123.5 174.2L148.3 173.7L164.3 174.1L176.4 174.9L200.4 177.7L212.4 179.9L222.6 182.2L240.5 187.8L248.5 191.0L256.5 194.9L268.6 201.8L292.6 218.1L292.6 461.3L-4.0 461.3L-4.0 216.3L0.0 216.3L20.0 202.7L34.8 194.2L44.1 189.9L56.1 185.5L68.1 182.0L86.5 178.2L104.2 175.8Z" fill="#ffd400" fill-rule="evenodd"/>
<path d="M123.7 182.2L148.3 181.6L172.4 182.6L184.4 183.8L196.4 185.6L208.4 187.9L217.6 190.2L228.5 193.5L236.5 196.4L252.5 203.8L276.6 217.7L292.6 228.5L292.6 461.3L-4.0 461.3L-4.0 226.6L0.0 226.6L16.0 216.1L36.1 204.5L48.1 198.7L60.1 193.9L72.4 190.2L88.2 186.5L104.2 184.0Z" fill="#ffc400" fill-rule="evenodd"/>
<path d="M130.8 190.2L152.3 189.9L164.3 190.5L176.4 191.5L196.4 194.5L208.4 197.2L216.5 199.5L224.6 202.1L236.5 206.8L248.5 212.3L259.8 218.1L276.6 228.1L292.6 239.9L292.6 461.3L-4.0 461.3L-4.0 237.8L0.0 237.8L16.6 226.1L24.1 221.5L36.1 215.0L52.1 207.4L64.1 202.6L80.2 197.6L96.2 194.0L112.2 191.7Z" fill="#ffb300" fill-rule="evenodd"/>
<path d="M103.2 202.1L116.2 200.3L128.3 199.2L140.3 198.7L156.3 198.9L168.4 199.7L180.4 201.1L192.4 203.2L205.1 206.1L216.5 209.5L228.5 213.8L240.5 218.8L252.5 224.7L262.1 230.0L274.4 238.0L284.6 245.7L292.6 252.6L292.6 461.3L-4.0 461.3L-4.0 250.2L0.0 250.2L12.0 240.6L24.1 232.4L36.1 225.4L51.1 218.1L64.1 212.8L76.2 208.7L88.2 205.3Z" fill="#ffa100" fill-rule="evenodd"/>
<path d="M123.3 210.1L136.3 209.2L148.3 209.1L160.3 209.6L172.4 210.7L192.4 214.1L204.4 217.1L216.5 220.8L228.5 225.3L239.0 230.0L248.5 234.9L260.4 242.0L268.6 247.6L276.9 254.0L285.9 261.9L292.6 268.6L292.6 461.3L-4.0 461.3L-4.0 265.9L0.0 265.9L8.0 258.3L16.0 251.7L23.7 246.0L32.1 240.4L44.1 233.5L59.8 226.1L76.2 219.9L92.2 215.4L108.2 212.1Z" fill="#ff8f00" fill-rule="evenodd"/>
<path d="M128.9 222.1L140.3 221.5L152.3 221.6L164.3 222.3L176.4 223.8L188.4 226.0L200.4 229.0L212.4 232.8L224.5 237.5L234.1 242.0L244.5 247.6L254.6 254.0L264.6 261.3L272.6 268.1L278.7 273.9L286.1 281.9L292.6 290.0L292.6 441.9L286.7 449.3L279.5 457.3L279.5 461.3L10.5 461.3L10.5 457.3L0.0 445.4L-4.0 445.4L-4.0 286.7L0.0 286.6L7.5 277.9L15.4 269.9L24.1 262.4L29.8 257.9L41.5 250.0L56.1 241.9L64.3 238.0L74.2 234.0L92.2 228.3L108.2 224.7L120.3 222.9Z" fill="#ff7e00" fill-rule="evenodd"/>
<path d="M119.8 238.0L132.3 236.8L144.3 236.3L156.3 236.7L168.4 237.8L180.4 239.7L192.4 242.5L204.4 246.1L216.5 250.8L228.5 256.6L237.9 261.9L248.5 269.2L256.5 275.6L264.6 283.0L272.6 291.7L280.2 301.8L284.6 308.7L289.5 317.7L292.6 324.9L292.6 407.1L287.9 417.4L280.6 429.7L274.9 437.4L268.6 444.9L260.5 452.9L255.5 457.3L255.5 461.3L34.5 461.3L34.5 457.3L24.1 447.6L15.0 437.4L6.7 425.4L0.0 413.1L-4.0 413.1L-4.0 318.9L0.0 318.9L4.8 309.8L9.8 301.8L15.7 293.8L22.7 285.9L28.1 280.4L35.4 273.9L48.1 264.5L58.9 257.9L66.6 254.0L75.5 250.0L84.2 246.6L100.2 241.8Z" fill="#ff6600" fill-rule="evenodd"/>
<path d="M116.5 257.9L128.3 256.3L140.3 255.5L152.3 255.6L160.3 256.1L172.4 257.7L184.4 260.4L192.4 262.7L204.4 267.1L216.5 272.8L224.5 277.4L232.5 282.8L241.3 289.8L249.5 297.8L256.4 305.8L262.0 313.8L266.7 321.7L270.4 329.7L273.3 337.7L276.3 349.6L277.4 357.6L277.7 365.6L277.0 377.6L275.7 385.5L272.6 396.6L269.0 405.5L264.9 413.4L259.9 421.4L253.8 429.4L246.4 437.4L237.5 445.3L228.5 452.0L220.0 457.3L220.0 461.3L70.1 461.3L70.0 457.3L60.1 451.1L52.5 445.3L44.1 437.9L39.7 433.4L30.1 421.4L22.9 409.4L17.7 397.5L14.3 385.5L12.6 373.6L12.4 361.6L13.7 349.6L16.7 337.7L21.4 325.7L28.0 313.8L36.1 302.8L44.4 293.8L53.5 285.9L64.7 277.9L76.2 271.4L88.4 265.9L100.2 261.9Z" fill="#ff4c00" fill-rule="evenodd"/>
<path d="M117.2 281.9L128.3 279.9L136.3 279.0L144.3 278.7L152.3 278.9L164.3 280.2L172.4 281.8L180.4 283.9L188.4 286.6L196.4 290.0L204.4 294.1L212.4 299.3L220.5 305.5L225.1 309.8L232.3 317.7L236.5 323.6L240.2 329.7L245.6 341.7L247.9 349.6L249.2 357.6L249.7 365.6L249.3 373.6L248.0 381.5L245.8 389.5L242.7 397.5L238.4 405.5L232.9 413.4L229.6 417.4L224.5 422.8L216.5 429.8L208.4 435.4L200.4 440.0L192.4 443.8L180.4 448.1L168.4 451.1L156.3 452.8L148.3 453.2L136.3 453.0L124.3 451.5L113.9 449.3L104.2 446.4L92.2 441.4L84.2 437.0L76.2 431.7L68.1 425.3L60.4 417.4L54.2 409.4L49.3 401.5L45.6 393.5L42.9 385.5L41.2 377.6L40.3 365.6L41.3 353.6L43.2 345.7L46.0 337.7L49.8 329.7L54.8 321.7L61.1 313.8L68.1 306.7L76.2 300.3L86.2 293.8L96.2 288.8L108.2 284.3Z" fill="#ff2f00" fill-rule="evenodd"/>
<path d="M136.2 305.8L144.3 305.4L152.3 305.7L164.3 307.6L172.3 309.8L176.4 311.3L181.9 313.8L188.4 317.3L194.7 321.7L199.4 325.7L206.6 333.7L209.3 337.7L212.4 343.3L215.1 349.6L216.3 353.6L217.1 357.6L217.8 365.6L217.6 369.6L216.5 377.6L215.3 381.5L212.4 388.8L207.2 397.5L200.3 405.5L195.8 409.4L188.4 414.7L183.6 417.4L176.4 420.7L164.3 424.5L156.3 425.9L148.3 426.6L140.3 426.5L132.3 425.7L124.3 424.1L116.2 421.7L106.4 417.4L99.6 413.4L94.2 409.4L89.8 405.5L86.0 401.5L80.2 393.6L77.9 389.5L76.1 385.5L73.6 377.6L72.8 373.6L72.2 365.6L72.9 357.6L73.8 353.6L76.2 346.3L78.4 341.7L83.4 333.7L86.7 329.7L90.6 325.7L96.2 321.0L100.9 317.7L108.2 313.6L120.3 309.0L128.3 307.0Z" fill="#ff1300" fill-rule="evenodd"/>
</g>
<path d="M461.0 223.5L753.6 53.5M753.6 53.5L753.6 510.8M753.6 510.8L461.0 680.8M461.0 680.8L461.0 223.5M447.6 216.0L461.0 223.5M740.2 46.0L753.6 53.5M740.2 503.3L753.6 510.8M447.6 673.3L461.0 680.8M519.9 132.3L568.7 103.9M568.7 103.9L568.7 160.9M568.7 160.9L519.9 189.3M519.9 189.3L519.9 132.3M506.5 124.8L519.9 132.3M555.3 96.4L568.7 103.9M555.3 153.4L568.7 160.9M506.5 181.8L519.9 189.3M645.5 59.3L693.6 31.4M693.6 31.4L693.6 88.4M693.6 88.4L645.5 116.3M645.5 116.3L645.5 59.3M632.1 51.8L645.5 59.3M680.2 23.9L693.6 31.4M680.2 80.9L693.6 88.4M632.1 108.8L645.5 116.3" fill="none" stroke="#333" stroke-width="1.0" opacity="0.5"/>
<g>
<path d="M800.4 590.7L766.4 611.2" stroke="#e60a0a" stroke-width="3.6"/>
<path d="M755.9 617.7l10 -11.5l5 9.5z" fill="#e60a0a"/>
<path d="M755.9 617.7l12.5 -6.5l2.5 4.5z" fill="#5a0505"/>
<path d="M800.4 590.7L834.4 611.2" stroke="#0a0af5" stroke-width="4.6"/>
<path d="M845.9 617.7l-10 -12l-5.5 10z" fill="#0a0af5"/>
<path d="M845.9 617.7l-3.5 -4.2l-12 2.2z" fill="#05055a" opacity="0.7"/>
<path d="M800.4 590.7V554.7" stroke="#0a820a" stroke-width="4"/>
<path d="M800.4 539.7l5.6 10q0.6 4 -5.6 5.5q-6.2 -1.5 -5.6 -5.5z" fill="#0a960a"/>
<rect x="794.8" y="585.7" width="11.2" height="11" rx="2" fill="#12eaea"/>
<text transform="translate(799.00 533.90) scale(1.05 1.12)" x="0" y="0" font-size="14" font-family="Liberation Sans, sans-serif" text-anchor="middle" fill="#0a960a" font-weight="bold">Y</text>
<text transform="translate(745.40 629.00) scale(1.0 1.2)" x="0" y="0" font-size="14" font-family="Liberation Sans, sans-serif" text-anchor="middle" fill="#f01414" font-weight="bold">X</text>
<text transform="translate(854.20 626.70) scale(1.0 1.15)" x="0" y="0" font-size="17" font-family="Liberation Sans, sans-serif" text-anchor="middle" fill="#1414f0" font-weight="bold">Z</text>
</g>
<g>
<rect x="1799.5" y="644.3" width="14" height="15" rx="2.5" fill="#0a0af5"/>
<path d="M1805.5 651.8H1748.5" stroke="#ff1414" stroke-width="4.4"/>
<path d="M1732.0 651.8l17.5 -7.2v14.4z" fill="#c80808"/>
<path d="M1732.0 651.8l17.5 1v6.2z" fill="#6e0505"/>
<path d="M1806.5 650.8V595.8" stroke="#0a9a0a" stroke-width="4"/>
<path d="M1806.5 576.8l7.6 19h-15.2z" fill="#0a9a0a"/>
<path d="M1805.5 585.8l-1 10h-5.6z" fill="#064a06"/>
<circle cx="1768.2" cy="614.9" r="7.2" fill="#0a6a72"/>
<circle cx="1769.3" cy="613.9" r="6.4" fill="#12f0f0"/>
<text transform="translate(1808.10 572.20) scale(0.95 1.15)" x="0" y="0" font-size="19" font-family="Liberation Sans, sans-serif" text-anchor="middle" fill="#0a960a" font-weight="bold">Y</text>
<text transform="translate(1719.70 660.00) scale(0.97 1.22)" x="0" y="0" font-size="19" font-family="Liberation Sans, sans-serif" text-anchor="middle" fill="#f01414" font-weight="bold">X</text>
</g>
<g>
<rect x="897.4" y="1243.1" width="14" height="15" rx="2.5" fill="#0a0af5"/>
<path d="M903.4 1250.6H846.4" stroke="#ff1414" stroke-width="4.4"/>
<path d="M829.9 1250.6l17.5 -7.2v14.4z" fill="#c80808"/>
<path d="M829.9 1250.6l17.5 1v6.2z" fill="#6e0505"/>
<path d="M904.4 1249.6V1194.6" stroke="#0a9a0a" stroke-width="4"/>
<path d="M904.4 1175.6l7.6 19h-15.2z" fill="#0a9a0a"/>
<path d="M903.4 1184.6l-1 10h-5.6z" fill="#064a06"/>
<circle cx="866.1" cy="1213.7" r="7.2" fill="#0a6a72"/>
<circle cx="867.2" cy="1212.7" r="6.4" fill="#12f0f0"/>
<text transform="translate(906.00 1171.00) scale(0.95 1.15)" x="0" y="0" font-size="19" font-family="Liberation Sans, sans-serif" text-anchor="middle" fill="#0a960a" font-weight="bold">Y</text>
<text transform="translate(817.60 1258.80) scale(0.97 1.22)" x="0" y="0" font-size="19" font-family="Liberation Sans, sans-serif" text-anchor="middle" fill="#f01414" font-weight="bold">X</text>
</g>
<g>
<rect x="1798.0" y="1245.9" width="14" height="15" rx="2.5" fill="#0a0af5"/>
<path d="M1804.0 1253.4H1747.0" stroke="#ff1414" stroke-width="4.4"/>
<path d="M1730.5 1253.4l17.5 -7.2v14.4z" fill="#c80808"/>
<path d="M1730.5 1253.4l17.5 1v6.2z" fill="#6e0505"/>
<path d="M1805.0 1252.4V1197.4" stroke="#0a9a0a" stroke-width="4"/>
<path d="M1805.0 1178.4l7.6 19h-15.2z" fill="#0a9a0a"/>
<path d="M1804.0 1187.4l-1 10h-5.6z" fill="#064a06"/>
<circle cx="1766.7" cy="1216.5" r="7.2" fill="#0a6a72"/>
<circle cx="1767.8" cy="1215.5" r="6.4" fill="#12f0f0"/>
<text transform="translate(1806.60 1173.80) scale(0.95 1.15)" x="0" y="0" font-size="19" font-family="Liberation Sans, sans-serif" text-anchor="middle" fill="#0a960a" font-weight="bold">Y</text>
<text transform="translate(1718.20 1261.60) scale(0.97 1.22)" x="0" y="0" font-size="19" font-family="Liberation Sans, sans-serif" text-anchor="middle" fill="#f01414" font-weight="bold">X</text>
</g>
</svg>
</body></html>
